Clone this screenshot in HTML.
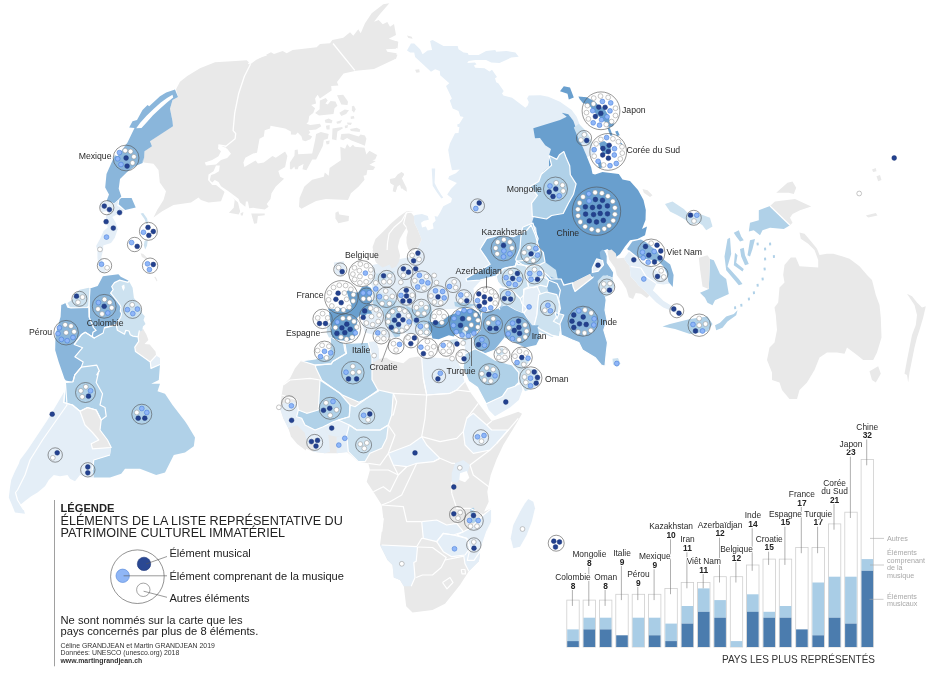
<!DOCTYPE html><html><head><meta charset="utf-8"><title>Carte</title>
<style>html,body{margin:0;padding:0;background:#fff;}svg{display:block;will-change:transform;font-family:"Liberation Sans",sans-serif;}</style></head><body>
<svg width="930" height="676" viewBox="0 0 930 676">
<rect width="930" height="676" fill="#fff"/>
<g stroke-linejoin="round">
<polygon fill="#e9e9e9"  points="176.0,89.3 180.0,81.7 187.3,76.0 200.0,68.3 215.0,62.3 231.7,61.3 246.7,60.3 250.7,64.0 256.0,60.0 271.0,52.3 274.0,54.0 282.7,51.0 286.7,53.3 292.7,50.0 316.7,47.3 320.0,44.0 330.0,43.3 332.3,40.0 343.3,37.7 350.0,32.3 353.3,35.7 358.3,29.3 360.7,33.3 365.0,23.3 371.7,13.3 383.3,4.3 389.3,3.3 380.0,14.0 374.0,21.7 378.7,20.0 382.7,24.3 387.3,22.0 390.0,26.7 394.0,24.0 396.0,35.0 388.7,38.7 397.7,41.7 396.0,48.7 386.0,49.3 387.3,51.7 396.7,53.3 394.7,59.3 374.0,69.0 356.0,70.7 343.6,73.4 337.0,82.1 338.4,85.6 331.2,86.0 331.6,90.5 319.9,98.6 317.6,94.7 315.1,98.6 316.1,103.4 311.2,105.0 315.1,108.3 313.2,113.1 309.3,116.0 308.3,121.8 306.4,123.8 310.3,125.1 319.9,123.8 321.3,126.3 316.1,129.6 308.7,130.2 310.3,132.5 308.3,134.4 312.2,136.4 310.3,139.3 305.4,141.2 302.5,140.3 301.5,136.4 297.7,132.5 295.7,134.8 290.9,134.4 290.9,131.5 285.1,128.6 270.5,125.7 270.0,128.6 264.7,130.2 263.8,136.4 259.5,138.7 257.0,152.8 253.1,153.4 245.3,157.7 243.4,162.5 244.4,167.0 252.1,162.5 255.6,160.6 257.9,163.5 263.8,162.5 272.5,156.1 275.8,157.7 285.1,151.5 287.4,155.9 285.1,167.1 278.3,171.0 280.2,176.8 284.1,178.8 275.8,186.5 271.5,193.3 270.5,199.1 266.7,203.9 268.6,206.8 264.7,209.4 253.1,207.8 249.2,208.2 247.9,201.6 245.9,201.6 245.3,206.8 239.5,202.0 240.1,211.7 238.6,214.6 228.9,212.7 233.7,207.8 234.7,200.1 231.8,196.2 225.0,190.8 221.0,201.2 208.5,202.5 201.0,200.0 198.5,197.5 191.0,202.5 173.5,205.0 162.2,211.2 153.5,217.5 157.2,210.0 163.5,200.0 166.0,191.2 159.8,182.5 158.5,170.0 153.5,163.8 143.5,162.5 144.5,151.0 152.0,146.0 150.0,141.0 173.0,126.0 172.5,121.0 170.0,109.0 172.5,100.0 178.0,97.0"/>
<polygon fill="#e9e9e9"  points="319.9,100.5 325.8,98.0 327.7,100.5 325.4,103.4 327.7,104.4 330.6,101.1 335.4,101.5 337.4,105.8 334.5,108.3 333.5,114.1 319.0,115.5 315.1,113.1 319.6,109.3"/>
<polygon fill="#e9e9e9"  points="337.0,95.3 343.2,94.7 348.0,101.5 347.5,105.0 341.3,104.4"/>
<polygon fill="#e9e9e9"  points="351.9,106.3 353.9,105.8 355.8,109.3 353.9,112.7 351.9,110.2"/>
<polygon fill="#e9e9e9"  points="339.3,112.7 344.7,109.6 349.0,110.2 346.1,114.1 341.3,116.0"/>
<polygon fill="#e9e9e9"  points="324.8,119.9 328.7,118.6 332.5,120.5 331.6,123.2 325.4,122.8"/>
<polygon fill="#e9e9e9"  points="336.4,121.8 342.2,119.9 340.3,123.2 337.0,123.8"/>
<polygon fill="#e9e9e9"  points="325.8,125.7 329.6,125.1 329.6,129.6 326.7,129.6"/>
<polygon fill="#e9e9e9"  points="332.5,128.6 342.2,127.1 342.8,128.6 337.4,131.5 336.4,140.3 332.0,139.3"/>
<polygon fill="#e9e9e9"  points="316.1,134.1 320.9,132.1 328.7,134.1 327.7,138.7 323.8,139.9 322.8,146.1 316.1,159.6 312.2,159.6 306.4,170.3 302.5,169.3 303.5,163.9 298.6,166.4 297.7,169.3 295.1,169.3 294.4,166.4 291.8,169.3 289.9,169.3 289.9,162.5 294.4,155.8 294.8,149.9 297.7,149.6 298.2,154.2 312.2,153.4 315.1,140.3"/>
<polygon fill="#e9e9e9"  points="350.0,129.0 356.8,127.7 360.2,129.6 359.7,132.1 350.9,131.0"/>
<polygon fill="#e9e9e9"  points="341.3,134.1 349.0,133.5 358.7,136.4 360.6,134.4 364.9,135.4 366.4,138.7 364.9,145.7 358.7,143.2 350.9,140.3 347.1,137.9 343.2,140.3 340.3,139.3"/>
<polygon fill="#e9e9e9"  points="347.1,122.4 351.9,122.8 350.9,125.1 347.5,124.4"/>
<polygon fill="#e9e9e9"  points="350.6,116.6 353.9,116.0 354.4,118.6 350.9,118.9"/>
<polygon fill="#e9e9e9"  points="344.7,125.7 348.0,125.1 347.5,127.7 345.1,128.2"/>
<polygon fill="#e9e9e9"  points="325.8,141.2 329.6,140.6 329.2,144.1 326.7,144.5"/>
<polygon fill="#e9e9e9"  points="340.3,146.8 345.1,148.7 347.1,143.9 350.0,147.4 352.9,144.8 354.8,146.8 364.5,147.8 366.4,154.5 369.4,150.7 377.1,155.1 375.2,159.4 372.3,160.3 375.7,161.3 369.4,164.8 375.2,167.1 373.2,170.0 367.4,170.0 366.4,174.9 363.5,175.8 364.5,179.7 358.7,186.5 350.9,193.3 348.0,200.1 325.8,199.1 316.1,201.0 308.3,204.9 301.5,208.8 299.0,206.8 299.6,198.1 304.4,186.5 312.2,179.7 323.8,176.8 324.8,172.6 328.7,175.8 329.6,168.1 340.9,160.3"/>
<polygon fill="#e9e9e9"  points="335.4,212.7 338.4,211.3 339.3,214.6 349.0,216.0 348.6,221.0 338.4,223.3 335.4,218.5"/>
<polygon fill="#e9e9e9"  points="389.7,179.7 395.5,178.8 398.4,183.6 395.5,192.3 392.6,191.3 394.5,185.5 390.7,183.6"/>
<polygon fill="#e9e9e9"  points="398.4,174.9 401.3,172.0 404.2,173.9 402.3,177.8"/>
<polygon fill="#e9e9e9"  points="400.4,186.5 402.9,185.0 403.6,188.1 401.3,188.8"/>
<polygon fill="#e9e9e9"  points="251.2,213.6 264.7,213.6 264.7,215.2 257.9,216.0 257.0,223.3 254.1,223.7"/>
<polygon fill="#e9e9e9"  points="240.5,213.2 243.4,212.1 242.8,215.6 240.9,215.6"/>
<polygon fill="#fff"  points="218.5,144.5 227.2,148.8 231.0,153.8 227.2,158.0 221.0,160.0 216.0,164.5 206.0,165.5 204.8,162.5 212.2,160.0 218.5,156.2 221.0,151.2 218.0,148.8"/>
<polygon fill="#fff"  points="216.0,165.5 219.8,165.5 219.0,171.2 214.8,173.8 211.0,175.0 209.8,180.0 212.2,182.5 214.8,180.0 218.5,182.0 221.0,186.2 228.5,191.2 233.5,195.0 238.5,198.8 241.0,205.0 241.0,210.0 239.8,210.0 238.0,202.5 232.2,197.5 226.0,193.0 219.8,188.0 216.0,185.0 212.2,185.0 208.0,180.0 208.5,174.5 213.5,171.2"/>
<polyline fill="none" stroke="#fff" stroke-width="1.3" points="249.2,58.9 250.2,64.7 244.4,76.3 238.6,93.8 234.7,113.1 233.1,130.6 235.7,133.5 235.1,138.7 225.0,147.0 226.0,146.2 218.5,145.0"/>
<polyline fill="none" stroke="#fff" stroke-width="1.3" points="248.3,63.7 254.1,58.9 266.7,55.0"/>
<polyline fill="none" stroke="#fff" stroke-width="1.3" points="333.0,43.5 354.8,70.3"/>
<polygon fill="#8ab6db"  points="175.0,89.5 178.0,97.0 172.5,100.0 170.0,108.8 172.5,121.2 173.0,126.2 150.0,141.2 152.0,146.2 144.5,151.2 143.8,162.5 143.2,157.7 142.6,162.9 135.5,166.1 127.1,171.9 120.0,179.0 118.7,188.7 121.3,196.5 118.7,199.3 114.2,203.2 106.5,201.0 109.0,194.5 105.2,187.4 106.5,173.9 114.8,155.2 117.5,156.2 127.5,142.5 134.5,128.0 129.2,127.5 132.5,121.2 137.0,120.0 142.5,110.0 147.5,105.0 149.2,106.2 160.0,96.2 166.2,92.5"/>
<polygon fill="#fff"  points="173.2,97.5 167.0,102.5 160.5,108.2 153.0,115.2 147.0,122.0 141.5,128.0 136.2,128.2 140.2,122.8 146.8,115.5 153.8,108.8 160.8,102.5 167.0,98.0 172.5,94.8"/>
<polygon fill="#8ab6db"  points="121.3,198.0 131.6,198.0 135.7,207.4 125.2,210.0 118.7,204.2 119.4,199.7"/>
<polygon fill="#e4eef7"  points="100.6,201.6 106.5,201.0 114.2,203.2 118.5,199.7 117.2,205.5 124.5,210.4 116.8,214.5 112.3,217.1 115.5,222.3 118.1,230.0 117.4,230.0 114.8,237.7 111.0,242.9 103.2,245.5 103.2,249.4 101.3,257.1 105.8,272.6 99.4,272.6 97.4,257.7 97.4,249.4 96.1,246.1 100.0,239.0 103.9,230.6 101.9,232.6 107.7,227.4 105.8,217.1 109.7,210.6 101.9,211.9 99.4,206.8"/>
<polygon fill="#cde2f0"  points="140.6,213.5 143.2,213.0 147.1,218.4 148.1,223.5 146.5,224.2 144.5,219.0"/>
<polygon fill="#cde2f0"  points="144.5,241.0 147.7,240.3 147.1,245.5 145.2,249.4 143.9,245.5"/>
<polygon fill="#e9e9e9"  points="140.6,253.2 143.2,253.9 147.1,257.7 146.5,259.4 141.9,257.1"/>
<polygon fill="#e9e9e9"  points="154.2,277.1 155.5,276.7 157.4,280.3 156.8,281.6"/>
<polygon fill="#b0d1e8"  points="74.2,344.5 81.3,334.8 85.2,332.3 94.2,338.1 103.2,332.9 104.5,327.7 116.1,324.5 117.4,330.3 124.5,334.2 125.8,330.3 129.0,331.0 130.3,334.8 132.9,336.1 138.1,336.8 138.7,341.3 134.8,347.1 135.5,351.6 141.9,356.1 150.3,361.9 151.0,368.4 160.0,364.5 158.8,380.0 151.2,383.8 160.0,383.8 157.5,391.2 165.0,393.8 172.5,405.0 185.0,421.2 187.5,425.0 195.0,437.5 193.8,446.2 185.0,452.5 173.8,455.0 165.0,472.5 156.2,475.0 140.0,468.8 125.0,468.8 121.2,473.8 110.0,477.5 93.8,477.5 92.5,470.0 93.8,460.0 110.0,455.0 111.2,447.5 107.5,440.0 100.0,430.0 101.2,420.0 106.2,416.2 105.0,407.5 100.0,405.0 102.5,393.8 96.2,382.5 98.8,371.2 95.0,366.2 96.8,374.8 99.4,371.0 96.8,365.2 81.3,367.1 83.2,361.9 74.8,356.8 82.6,347.7"/>
<polygon fill="#e9e9e9"  points="139.4,330.3 143.2,329.0 146.5,334.8 148.4,340.0 144.5,343.9 149.7,344.5 155.5,351.6 156.1,355.5 150.3,361.9 141.9,356.1 135.5,351.6 134.8,347.1 138.7,341.3 138.1,336.8"/>
<polygon fill="#e4eef7"  points="150.3,361.9 156.1,355.5 160.0,358.1 160.0,364.5 151.0,368.4"/>
<polygon fill="#8ab6db"  points="61.3,304.5 65.8,302.3 67.7,307.1 71.0,308.0 87.1,307.5 88.8,306.2 89.0,316.8 93.5,327.7 96.1,330.3 92.9,332.3 92.3,336.8 94.2,338.1 85.2,332.3 81.3,334.8 74.2,344.5 82.6,347.7 74.8,356.8 83.2,361.9 81.3,367.1 74.8,374.8 72.9,381.9 65.8,380.6 64.5,378.7 58.7,361.9 55.2,350.3 55.5,334.8 60.6,316.8"/>
<polygon fill="#cde2f0"  points="67.4,303.0 72.6,299.4 73.9,294.3 79.7,289.7 88.7,287.8 89.7,288.5 89.7,307.2 87.4,308.2 70.0,307.2"/>
<polygon fill="#8ab6db"  points="90.0,288.5 97.7,285.9 102.9,276.2 118.4,274.3 120.7,276.8 128.7,280.7 128.1,282.4 119.7,280.1 114.5,282.6 111.7,286.5 113.2,289.7 110.6,293.0 115.8,299.4 119.7,304.6 121.0,307.2 120.3,311.0 121.6,313.6 120.7,317.2 117.1,322.6 116.1,325.0 104.8,327.8 104.2,332.3 94.5,337.9 92.6,336.8 93.2,332.3 96.5,330.4 93.9,327.5 90.0,318.8"/>
<polygon fill="#cde2f0"  points="111.7,286.5 114.5,282.6 119.7,280.1 128.1,282.4 128.7,280.7 132.6,287.8 133.9,298.1 140.3,305.9 142.3,313.6 144.8,316.2 143.5,320.1 145.5,323.9 142.9,326.5 142.3,330.4 139.0,331.7 138.1,336.8 132.8,336.1 130.3,334.8 129.0,331.0 125.7,330.3 124.5,334.1 117.4,330.3 116.1,325.0 117.1,322.6 120.7,317.2 121.6,313.6 120.3,311.0 121.0,307.2 119.7,304.6 115.8,299.4 110.6,293.0 113.2,289.7"/>
<polygon fill="#fff"  points="121.6,285.9 124.2,284.6 124.8,287.8 123.5,291.0 122.3,288.5"/>
<polygon fill="#b0d1e8"  points="81.3,367.1 96.8,365.2 99.4,371.0 96.8,374.8 98.8,371.2 96.2,382.5 102.5,393.8 100.0,405.0 105.0,407.5 106.2,416.2 101.2,420.0 96.2,410.0 87.5,407.5 80.0,411.2 72.5,405.0 63.8,402.5 65.5,382.5 72.9,381.9 74.8,374.8"/>
<polygon fill="#e9e9e9"  points="80.0,411.2 87.5,407.5 96.2,410.0 101.2,420.0 100.0,430.0 107.5,440.0 111.2,447.5 92.5,448.8 91.2,443.8 98.8,440.0 92.5,432.5 85.0,425.0"/>
<polygon fill="#e4eef7"  points="65.5,382.5 63.8,402.5 72.5,405.0 80.0,411.2 85.0,425.0 92.5,432.5 98.8,440.0 91.2,443.8 92.5,448.8 111.2,447.5 110.0,455.0 93.8,460.0 92.5,470.0 93.8,477.5 87.5,477.5 80.0,475.0 75.0,481.2 70.0,478.8 67.5,475.0 60.0,476.2 53.8,475.0 48.8,480.0 45.0,486.2 37.5,492.5 31.2,496.2 26.2,500.0 20.0,505.0 23.8,510.0 25.0,513.8 15.0,512.5 12.5,506.2 8.8,497.5 10.0,487.5 11.2,480.0 15.0,471.2 18.8,463.8 20.0,460.0 27.5,450.0 37.5,435.0 47.5,420.0 51.2,413.8 63.8,392.5"/>
<polyline fill="none" stroke="#fff" stroke-width="1.2" points="65.5,383.8 67.0,405.0 60.0,415.0 42.5,440.0 30.0,460.0 25.0,475.0 17.5,490.0 15.5,492.5 17.5,500.0 23.8,510.0"/>
<polyline fill="none" stroke="#fff" stroke-width="1.2" points="65.5,382.5 63.8,402.5 72.5,405.0 80.0,411.2"/>
<polyline fill="none" stroke="#fff" stroke-width="1.2" points="81.3,367.1 96.8,365.2 99.4,371.0 96.8,374.8 98.8,371.2 96.2,382.5 102.5,393.8 100.0,405.0 105.0,407.5 106.2,416.2 101.2,420.0 96.2,410.0 87.5,407.5 80.0,411.2 72.5,405.0 63.8,402.5 65.5,382.5 72.9,381.9 74.8,374.8 81.3,367.1"/>
<polyline fill="none" stroke="#fff" stroke-width="1.2" points="80.0,411.2 87.5,407.5 96.2,410.0 101.2,420.0 100.0,430.0 107.5,440.0 111.2,447.5 92.5,448.8 91.2,443.8 98.8,440.0 92.5,432.5 85.0,425.0 80.0,411.2"/>
<polyline fill="none" stroke="#fff" stroke-width="1.2" points="110.0,455.0 93.8,460.0 92.5,470.0"/>
<polyline fill="none" stroke="#fff" stroke-width="1.2" points="88.8,306.2 89.0,316.8 93.5,327.7 96.1,330.3 92.9,332.3 92.3,336.8 94.2,338.1 85.2,332.3 81.3,334.8 74.2,344.5 82.6,347.7 74.8,356.8 83.2,361.9 81.3,367.1 74.8,374.8 72.9,381.9"/>
<polyline fill="none" stroke="#fff" stroke-width="1.2" points="74.2,344.5 81.3,334.8 85.2,332.3 94.2,338.1 103.2,332.9 104.5,327.7 116.1,324.5 117.4,330.3 124.5,334.2 125.8,330.3 129.0,331.0 130.3,334.8 132.9,336.1 138.1,336.8 138.7,341.3 134.8,347.1 135.5,351.6 141.9,356.1 150.3,361.9 151.0,368.4 160.0,364.5"/>
<polyline fill="none" stroke="#fff" stroke-width="1.2" points="61.3,304.5 65.8,302.3 67.7,307.1 71.0,308.0 87.1,307.5 88.8,306.2 90.0,288.5"/>
<polyline fill="none" stroke="#fff" stroke-width="1.2" points="128.7,280.7 128.1,282.4 119.7,280.1 114.5,282.6 111.7,286.5 113.2,289.7 110.6,293.0 115.8,299.4 119.7,304.6 121.0,307.2 120.3,311.0 121.6,313.6 120.7,317.2 117.1,322.6 116.1,325.0 104.8,327.8"/>
<polyline fill="none" stroke="#fff" stroke-width="1.2" points="150.3,361.9 156.1,355.5"/>
<polyline fill="none" stroke="#fff" stroke-width="1.2" points="138.1,336.8 139.4,330.3"/>
<polygon fill="#e9e9e9"  points="301.1,360.8 315.3,358.9 328.2,355.0 330.7,346.0 330.1,336.3 334.6,338.9 343.6,342.7 360.4,342.7 368.2,342.1 375.9,341.5 378.5,348.5 379.1,358.9 386.2,357.6 390.1,360.2 403.3,363.3 409.5,358.0 418.2,356.6 423.0,359.0 433.7,357.5 449.2,358.5 456.7,359.5 461.7,368.3 465.0,381.7 470.0,391.7 478.3,403.3 486.7,414.3 491.7,421.0 500.0,418.3 518.3,411.7 522.0,413.7 515.0,425.7 503.3,445.0 496.7,459.0 490.7,475.0 487.3,491.7 488.7,501.7 484.0,511.7 491.7,508.3 491.7,521.7 486.7,531.7 483.3,541.7 480.0,551.7 480.0,540.0 480.0,555.0 478.8,561.2 468.8,571.2 460.0,585.0 445.0,603.8 432.5,610.0 412.5,612.5 406.2,606.2 403.8,586.2 400.0,580.0 393.8,577.5 392.5,565.0 387.5,560.0 380.0,545.0 381.7,531.7 383.3,518.3 381.7,505.0 373.3,491.7 366.7,481.7 370.0,470.0 368.3,463.3 358.3,461.7 346.7,451.7 336.7,453.3 325.0,453.3 313.3,451.7 305.0,448.3 296.7,438.3 290.0,431.7 283.3,418.3 280.0,408.3 281.7,395.0 283.3,385.0 290.0,378.3 295.0,368.3"/>
<polygon fill="#b0d1e8"  points="301.1,360.8 315.3,358.9 328.2,355.0 330.7,346.0 330.1,336.3 334.6,338.9 343.6,342.7 344.9,351.1 346.5,353.3 332.7,361.5 331.4,363.8 315.3,365.1"/>
<polygon fill="#b0d1e8"  points="332.7,361.5 346.5,353.3 344.9,343.4 360.4,342.7 368.2,342.1 370.7,352.4 372.0,357.6 372.0,379.5 378.5,391.1 363.0,400.2 359.1,402.2 342.4,395.0 321.7,380.2 315.9,367.9 315.3,365.1 331.4,363.8"/>
<polygon fill="#e4eef7"  points="368.2,342.1 375.9,341.5 378.5,348.5 379.1,358.9 373.3,362.7 372.0,357.6 370.7,352.4"/>
<polygon fill="#b0d1e8"  points="320.0,380.0 340.0,393.3 350.0,405.0 349.3,416.7 338.3,420.0 333.3,421.7 323.3,426.7 315.0,430.0 305.0,425.0 301.7,418.3 296.7,416.7 298.3,410.0 306.7,413.3 318.3,410.0"/>
<polygon fill="#cde2f0"  points="350.0,405.0 355.0,406.7 378.3,390.0 393.3,393.3 391.7,415.0 388.3,425.0 380.0,430.0 356.7,430.0 349.3,425.0 338.3,420.0 349.3,416.7"/>
<polygon fill="#e4eef7"  points="323.3,426.7 333.3,421.7 338.3,420.0 349.3,425.0 346.7,435.0 336.7,436.7 328.3,435.0"/>
<polygon fill="#cde2f0"  points="349.3,425.0 356.7,430.0 380.0,430.0 388.3,425.0 386.7,438.3 381.7,448.3 370.0,453.3 365.0,461.7 358.3,461.7 348.3,451.7 346.7,435.0"/>
<polygon fill="#e4eef7"  points="280.0,408.3 283.3,403.3 295.0,401.7 298.3,410.0 296.7,416.7 301.7,418.3 305.0,425.0 315.0,430.0 313.3,441.7 305.0,448.3 296.7,438.3 290.0,431.7 283.3,418.3"/>
<polygon fill="#e4eef7"  points="313.3,441.7 315.0,430.0 323.3,426.7 328.3,435.0 330.0,451.7 325.0,453.3 313.3,451.7"/>
<polygon fill="#e4eef7"  points="336.7,436.7 346.7,435.0 348.3,451.7 346.7,452.3 336.7,453.3"/>
<polygon fill="#e4eef7"  points="421.7,358.3 430.0,356.7 443.3,357.7 456.7,359.0 461.7,368.3 465.0,381.7 456.7,390.0 450.0,393.3 426.7,395.0 423.3,378.3"/>
<polygon fill="#e4eef7"  points="466.7,418.3 473.3,413.3 486.7,425.0 491.7,430.0 508.3,430.0 496.7,443.3 490.0,450.0 473.3,453.3 465.0,445.0 463.3,431.7"/>
<polygon fill="#e4eef7"  points="388.3,453.3 410.0,445.0 421.7,436.7 426.7,445.0 440.0,458.3 433.3,461.7 416.7,463.3 406.7,466.7 393.3,465.0"/>
<polygon fill="#e4eef7"  points="451.7,473.3 455.0,463.3 463.3,460.0 470.0,465.0 466.7,475.0 460.0,478.3 456.7,483.3 451.7,481.7"/>
<polygon fill="#fff"  points="460.0,473.3 466.7,471.0 469.3,477.7 465.0,482.3 459.3,480.0"/>
<polygon fill="#b0d1e8"  points="470.0,508.3 474.0,507.7 476.7,521.7 471.7,523.3"/>
<polygon fill="#e4eef7"  points="421.7,521.7 436.7,520.0 446.7,525.0 456.7,523.3 463.3,531.7 453.3,535.0 443.3,533.3 436.7,541.7 423.3,538.3"/>
<polygon fill="#e4eef7"  points="470.0,528.3 483.3,515.0 491.7,508.3 491.7,521.7 486.7,531.7 483.3,541.7 480.0,551.7 474.0,560.3 467.3,560.3 470.0,548.3 466.7,538.3 456.7,535.0 463.3,531.7"/>
<polygon fill="#e4eef7"  points="436.7,541.7 443.3,533.3 453.3,535.0 466.7,538.3 470.0,548.3 465.0,555.0 451.7,556.7 443.3,551.7"/>
<polygon fill="#e4eef7"  points="380.0,545.0 417.5,547.0 416.2,561.2 413.8,562.5 415.0,577.5 411.2,586.2 403.8,586.2 400.0,580.0 393.8,577.5 392.5,565.0 387.5,560.0"/>
<polygon fill="#e4eef7"  points="465.0,550.0 480.0,545.0 480.0,555.0 478.8,561.2 468.8,571.2 465.0,563.8 463.8,556.2"/>
<polygon fill="#e4eef7"  points="528.3,499.0 533.3,501.7 535.0,508.3 531.7,521.7 526.7,535.0 520.0,546.7 513.3,548.3 510.7,538.3 513.3,525.0 520.0,511.7 525.0,503.3"/>
<polyline fill="none" stroke="#fff" stroke-width="1.2" points="301.1,360.8 315.3,358.9 328.2,355.0 330.7,346.0 330.1,336.3 334.6,338.9 343.6,342.7 344.9,351.1 346.5,353.3 332.7,361.5 331.4,363.8 315.3,365.1 301.1,360.8"/>
<polyline fill="none" stroke="#fff" stroke-width="1.2" points="332.7,361.5 346.5,353.3 344.9,343.4 360.4,342.7 368.2,342.1 370.7,352.4 372.0,357.6 372.0,379.5 378.5,391.1 363.0,400.2 359.1,402.2 342.4,395.0 321.7,380.2 315.9,367.9 315.3,365.1 331.4,363.8 332.7,361.5"/>
<polyline fill="none" stroke="#fff" stroke-width="1.2" points="320.0,380.0 340.0,393.3 350.0,405.0 349.3,416.7 338.3,420.0 333.3,421.7 323.3,426.7 315.0,430.0 305.0,425.0 301.7,418.3 296.7,416.7 298.3,410.0 306.7,413.3 318.3,410.0 320.0,380.0"/>
<polyline fill="none" stroke="#fff" stroke-width="1.2" points="350.0,405.0 355.0,406.7 378.3,390.0 393.3,393.3 391.7,415.0 388.3,425.0 380.0,430.0 356.7,430.0 349.3,425.0 338.3,420.0 349.3,416.7 350.0,405.0"/>
<polyline fill="none" stroke="#fff" stroke-width="1.2" points="349.3,425.0 356.7,430.0 380.0,430.0 388.3,425.0 386.7,438.3 381.7,448.3 370.0,453.3 365.0,461.7 358.3,461.7 348.3,451.7 346.7,435.0 349.3,425.0"/>
<polyline fill="none" stroke="#fff" stroke-width="1.2" points="421.7,358.3 430.0,356.7 443.3,357.7 456.7,359.0 461.7,368.3 465.0,381.7 456.7,390.0 450.0,393.3 426.7,395.0 423.3,378.3 421.7,358.3"/>
<polyline fill="none" stroke="#fff" stroke-width="1.2" points="466.7,418.3 473.3,413.3 486.7,425.0 491.7,430.0 508.3,430.0 496.7,443.3 490.0,450.0 473.3,453.3 465.0,445.0 463.3,431.7 466.7,418.3"/>
<polyline fill="none" stroke="#fff" stroke-width="1.2" points="388.3,453.3 410.0,445.0 421.7,436.7 426.7,445.0 440.0,458.3 433.3,461.7 416.7,463.3 406.7,466.7 393.3,465.0 388.3,453.3"/>
<polyline fill="none" stroke="#fff" stroke-width="1.2" points="421.7,521.7 436.7,520.0 446.7,525.0 456.7,523.3 463.3,531.7 453.3,535.0 443.3,533.3 436.7,541.7 423.3,538.3 421.7,521.7"/>
<polyline fill="none" stroke="#fff" stroke-width="1.2" points="470.0,528.3 483.3,515.0 491.7,508.3 491.7,521.7 486.7,531.7 483.3,541.7 480.0,551.7 474.0,560.3 467.3,560.3 470.0,548.3 466.7,538.3 456.7,535.0 463.3,531.7 470.0,528.3"/>
<polyline fill="none" stroke="#fff" stroke-width="1.2" points="436.7,541.7 443.3,533.3 453.3,535.0 466.7,538.3 470.0,548.3 465.0,555.0 451.7,556.7 443.3,551.7 436.7,541.7"/>
<polyline fill="none" stroke="#fff" stroke-width="1.2" points="283.3,385.0 290.0,380.0 310.0,378.3 320.0,380.0"/>
<polyline fill="none" stroke="#fff" stroke-width="1.2" points="281.7,395.0 296.7,400.0 298.3,410.0"/>
<polyline fill="none" stroke="#fff" stroke-width="1.2" points="393.3,393.3 426.7,395.0"/>
<polyline fill="none" stroke="#fff" stroke-width="1.2" points="393.3,393.3 396.7,401.7 393.3,415.0 391.7,415.0"/>
<polyline fill="none" stroke="#fff" stroke-width="1.2" points="423.3,378.3 426.7,395.0 425.0,418.3 421.7,436.7"/>
<polyline fill="none" stroke="#fff" stroke-width="1.2" points="388.3,425.0 395.0,435.0 388.3,453.3"/>
<polyline fill="none" stroke="#fff" stroke-width="1.2" points="450.0,393.3 456.7,390.0 470.0,391.7"/>
<polyline fill="none" stroke="#fff" stroke-width="1.2" points="426.7,395.0 450.0,393.3"/>
<polyline fill="none" stroke="#fff" stroke-width="1.2" points="421.7,436.7 440.0,441.7 456.7,438.3 463.3,431.7"/>
<polyline fill="none" stroke="#fff" stroke-width="1.2" points="478.3,403.3 466.7,418.3"/>
<polyline fill="none" stroke="#fff" stroke-width="1.2" points="491.7,421.0 486.7,425.0"/>
<polyline fill="none" stroke="#fff" stroke-width="1.2" points="496.7,443.3 508.3,430.0 518.3,418.3"/>
<polyline fill="none" stroke="#fff" stroke-width="1.2" points="440.0,458.3 451.7,463.3 455.0,463.3"/>
<polyline fill="none" stroke="#fff" stroke-width="1.2" points="470.0,465.0 490.0,450.0"/>
<polyline fill="none" stroke="#fff" stroke-width="1.2" points="470.0,465.0 473.3,475.0 490.7,488.3"/>
<polyline fill="none" stroke="#fff" stroke-width="1.2" points="451.7,493.3 456.7,508.3 470.0,508.3 483.3,515.0"/>
<polyline fill="none" stroke="#fff" stroke-width="1.2" points="451.7,481.7 451.7,493.3"/>
<polyline fill="none" stroke="#fff" stroke-width="1.2" points="393.3,465.0 398.3,475.0 406.7,466.7"/>
<polyline fill="none" stroke="#fff" stroke-width="1.2" points="368.3,463.3 380.0,465.0 388.3,453.3"/>
<polyline fill="none" stroke="#fff" stroke-width="1.2" points="370.0,470.0 388.3,470.0 398.3,475.0"/>
<polyline fill="none" stroke="#fff" stroke-width="1.2" points="373.3,491.7 383.3,486.7 390.0,491.7 398.3,475.0"/>
<polyline fill="none" stroke="#fff" stroke-width="1.2" points="381.7,505.0 390.0,501.7 401.7,495.0 416.7,463.3"/>
<polyline fill="none" stroke="#fff" stroke-width="1.2" points="381.7,505.0 403.3,506.7 406.7,521.7 421.7,521.7"/>
<polyline fill="none" stroke="#fff" stroke-width="1.2" points="383.3,518.3 381.7,531.7"/>
<polyline fill="none" stroke="#fff" stroke-width="1.2" points="381.7,545.0 416.7,546.7 421.7,538.3 423.3,538.3"/>
<polyline fill="none" stroke="#fff" stroke-width="1.2" points="433.3,461.7 440.0,458.3"/>
<polyline fill="none" stroke="#fff" stroke-width="1.2" points="417.5,547.0 416.2,561.2 413.8,562.5 415.0,577.5 411.2,586.2"/>
<polyline fill="none" stroke="#fff" stroke-width="1.2" points="416.2,577.5 422.5,575.0 432.5,575.0 441.2,567.5 445.0,560.0 463.8,556.2 465.0,563.8 468.8,571.2"/>
<polyline fill="none" stroke="#fff" stroke-width="1.2" points="417.5,547.0 432.5,547.5 446.2,557.5 445.0,560.0"/>
<polyline fill="none" stroke="#fff" stroke-width="1.2" points="442.5,582.5 450.0,577.5 453.0,582.5 447.0,588.8 442.5,582.5"/>
<polyline fill="none" stroke="#fff" stroke-width="1.2" points="461.2,569.5 465.0,569.5 465.5,573.8 462.0,573.8 461.2,569.5"/>
<polygon fill="#e9e9e9"  points="288.4,427.8 297.2,425.3 304.7,432.8 307.2,442.9 305.9,450.4 297.2,444.1 290.9,436.6"/>
<polygon fill="#e4eef7"  points="372.5,265.0 395.0,260.0 407.5,257.5 430.0,265.0 480.0,275.0 482.5,307.5 431.2,310.0 430.0,325.0 420.0,335.0 400.0,332.5 395.0,337.5 385.0,337.5 365.0,332.5 362.5,325.0 365.0,312.5 372.5,300.0 372.5,280.0"/>
<polygon fill="#e4eef7"  points="333.8,262.5 343.8,261.2 346.2,270.0 341.2,276.2 335.0,273.8"/>
<polygon fill="#cde2f0"  points="376.2,273.8 395.0,271.2 407.5,275.0 425.0,273.8 430.0,287.5 428.8,300.0 420.0,310.0 407.5,308.8 395.0,310.0 385.0,307.5 375.0,300.0 372.5,287.5"/>
<polygon fill="#b0d1e8"  points="407.5,300.0 420.0,297.5 430.0,301.2 432.5,312.5 430.0,325.0 422.5,332.5 415.0,325.0 410.0,315.0 406.2,307.5"/>
<polygon fill="#cde2f0"  points="418.8,322.5 430.0,325.0 433.8,335.0 428.8,336.2 421.2,333.8"/>
<polygon fill="#699fce"  points="346.5,291.1 351.0,289.8 353.5,292.4 358.1,292.4 361.9,287.3 367.1,286.0 371.0,287.9 372.3,293.7 370.3,297.6 372.3,300.8 369.7,304.0 372.3,306.0 370.3,309.2 372.3,313.7 367.1,313.7 364.5,316.3 360.6,314.4 356.8,318.2 349.7,313.7 342.6,311.8 336.1,311.8 329.7,311.8 327.7,308.5 333.5,309.2 338.7,307.9 347.7,309.2 351.6,305.3 349.0,298.9"/>
<polygon fill="#699fce"  points="329.0,311.8 342.6,311.8 349.7,313.7 356.8,318.2 357.4,322.1 355.5,327.3 356.8,332.4 354.2,337.6 349.0,340.8 338.7,340.2 332.3,337.6 330.3,332.4 331.6,327.3 330.3,322.1"/>
<polygon fill="#cde2f0"  points="327.7,324.7 330.3,322.1 331.6,327.3 330.3,332.4 332.3,337.6 329.0,337.6 326.5,332.4"/>
<polygon fill="#b0d1e8"  points="382.5,308.8 395.0,306.2 400.0,312.5 397.5,320.0 401.2,327.5 400.0,336.2 395.0,337.5 390.0,330.0 386.2,322.5 383.8,315.0"/>
<polygon fill="#b0d1e8"  points="372.5,300.0 385.0,298.8 395.0,301.2 395.0,306.2 382.5,308.8 373.8,306.2"/>
<polygon fill="#699fce"  points="428.1,320.5 430.5,321.9 435.3,322.4 443.1,320.2 448.4,315.9 452.8,314.2 458.6,312.1 465.3,309.4 472.0,308.7 478.7,312.6 481.6,317.4 480.6,329.0 478.7,332.9 472.1,335.5 468.3,336.5 462.4,335.5 456.6,332.6 453.7,336.5 448.9,335.3 443.1,337.4 438.7,339.2 432.4,338.4 431.3,332.6 428.6,328.7"/>
<polygon fill="#b0d1e8"  points="452.5,292.5 473.8,290.0 475.0,305.0 465.0,308.8 455.0,306.2"/>
<polygon fill="#8ab6db"  points="473.8,290.0 485.0,285.0 497.5,287.5 500.0,300.0 495.0,310.0 482.5,312.5 475.0,305.0"/>
<polygon fill="#cde2f0"  points="450.0,340.0 457.5,338.8 458.0,343.0 451.2,344.5"/>
<polygon fill="#cde2f0"  points="462.5,336.2 480.0,330.0 487.5,332.5 482.5,342.5 472.5,347.5 465.0,347.5"/>
<polygon fill="#8ab6db"  points="476.0,303.0 500.0,302.0 504.0,316.0 481.0,316.0"/>
<polygon fill="#8ab6db"  points="481.6,312.6 499.0,307.7 502.0,312.6 507.8,316.5 505.0,337.5 495.0,350.0 485.0,353.8 475.0,348.8 472.5,337.5 480.0,330.0"/>
<polyline fill="none" stroke="#fff" stroke-width="1.2" points="481.6,312.6 499.0,307.7 502.0,312.6 507.8,316.5 505.0,337.5 495.0,350.0 485.0,353.8 475.0,348.8 472.5,337.5 480.0,330.0 481.6,312.6"/>
<polygon fill="#e4eef7"  points="465.0,340.0 472.5,337.5 475.0,348.8 465.0,353.8"/>
<polygon fill="#cde2f0"  points="462.5,330.0 465.0,328.8 467.5,337.5 465.0,343.8 462.5,342.5"/>
<polygon fill="#b0d1e8"  points="465.0,353.8 475.0,348.8 485.0,353.8 495.0,360.0 512.5,365.0 518.8,372.5 518.8,382.5 515.0,386.2 507.5,388.8 502.5,396.2 486.2,403.8 477.5,387.5 468.5,381.2 463.0,367.5"/>
<polygon fill="#e4eef7"  points="486.2,403.8 502.5,396.2 507.5,388.8 515.0,386.2 521.2,383.8 522.5,390.0 518.8,400.0 510.0,407.5 495.0,416.2 488.8,410.0"/>
<polygon fill="#cde2f0"  points="518.8,372.5 525.0,367.5 537.5,370.0 540.0,380.0 535.0,387.5 525.0,391.2 521.2,383.8 518.8,382.5"/>
<polygon fill="#cde2f0"  points="512.5,365.0 522.5,358.8 530.0,360.0 525.0,367.5 518.8,372.5"/>
<polygon fill="#cde2f0"  points="495.0,350.0 502.5,347.5 505.0,353.8 497.5,356.2"/>
<polyline fill="none" stroke="#fff" stroke-width="1.2" points="465.0,353.8 475.0,348.8 485.0,353.8 495.0,360.0 512.5,365.0 518.8,372.5 518.8,382.5 515.0,386.2 507.5,388.8 502.5,396.2 486.2,403.8 477.5,387.5 468.5,381.2 463.0,367.5 465.0,353.8"/>
<polygon fill="#e4eef7"  points="407.0,50.4 410.9,43.4 414.2,43.4 420.1,49.3 422.6,54.3 427.6,50.4 432.1,50.1 430.1,40.9 432.6,40.1 443.5,45.9 457.7,45.9 458.5,49.3 463.6,52.6 467.7,53.1 468.6,55.1 478.6,55.1 486.1,50.9 495.3,50.1 496.2,51.8 506.2,50.9 515.4,52.6 518.7,56.8 511.2,57.6 499.5,63.1 491.2,62.6 486.1,60.1 475.3,60.1 468.6,61.0 467.2,63.1 474.9,62.6 476.6,64.3 473.9,65.5 475.3,67.7 484.5,68.2 489.5,71.5 492.0,69.8 497.0,76.9 495.0,78.2 496.2,82.2 498.3,83.2 503.7,91.1 502.0,93.6 503.4,95.6 512.1,97.8 525.4,107.8 527.9,105.3 528.8,101.9 527.1,98.6 528.8,95.6 540.5,95.3 548.3,96.7 560.0,101.7 571.7,110.0 576.7,116.7 581.7,130.0 588.3,136.7 595.0,153.3 581.7,160.0 568.3,163.3 560.0,215.0 540.0,225.0 535.0,300.0 480.0,305.0 440.0,300.0 415.0,310.0 395.0,300.0 375.0,290.0 368.0,280.0 383.3,281.0 392.9,274.0 398.8,266.3 406.5,258.5 416.2,254.6 418.1,246.9 421.6,239.5 417.2,228.5 414.3,222.7 413.9,215.9 415.2,214.9 422.0,213.9 427.8,215.9 428.8,219.8 423.9,220.7 421.0,222.7 422.0,227.5 425.9,226.5 427.8,230.4 433.6,228.5 432.7,223.6 435.6,220.7 434.6,215.9 437.5,216.8 440.4,212.0 443.3,206.2 451.1,202.3 452.0,198.4 447.2,194.6 451.1,188.8 456.9,182.9 448.2,179.1 449.1,176.2 455.9,173.3 459.8,169.4 452.0,170.3 450.1,161.6 448.2,150.0 450.0,143.3 455.0,133.3 458.5,133.0 459.4,127.0 457.7,127.0 457.2,124.5 459.4,123.7 463.6,117.0 460.2,116.2 458.5,111.1 452.7,108.6 449.8,100.6 451.9,98.6 446.0,86.1 449.3,83.2 440.2,75.2 439.8,71.0 435.1,69.3 431.0,71.8 415.1,57.1 414.2,52.6 410.1,52.6"/>
<polygon fill="#e9e9e9"  points="395.0,40.9 398.3,41.7 397.5,48.4 395.0,47.6"/>
<polygon fill="#e9e9e9"  points="407.0,35.4 411.7,36.7 412.6,38.7 408.4,38.1"/>
<polygon fill="#e9e9e9"  points="415.1,69.8 419.2,69.3 419.7,72.2 416.4,72.7"/>
<polygon fill="#e9e9e9"  points="395.0,54.3 397.5,54.8 395.8,59.3 395.0,58.8"/>
<polygon fill="#e4eef7"  points="431.7,168.4 435.2,168.4 434.6,182.9 437.5,188.8 441.0,194.6 443.3,197.5 441.4,198.4 436.5,191.7 432.7,185.8"/>
<polygon fill="#e9e9e9"  points="413.9,211.0 406.1,211.6 398.8,216.8 391.0,223.6 383.3,231.4 375.5,239.1 372.6,246.9 373.6,254.6 375.5,261.4 379.4,265.3 383.3,262.4 386.2,257.5 389.1,264.3 392.0,268.6 396.4,266.3 399.1,261.4 400.1,255.6 397.8,246.9 399.7,239.1 403.0,233.3 406.5,227.5 403.6,223.6 405.0,217.8 406.5,212.4"/>
<polygon fill="#e9e9e9"  points="406.5,212.4 411.3,213.0 413.9,215.9 414.3,222.7 417.2,228.5 421.6,239.5 418.1,246.9 413.3,250.8 410.8,252.3 408.1,248.8 406.5,243.0 406.5,237.2 407.9,231.4 406.5,227.5 403.6,223.6 405.0,217.8"/>
<polyline fill="none" stroke="#fff" stroke-width="1.2" points="410.8,212.0 406.1,213.0 401.7,220.7 393.9,227.5 389.1,233.7 387.5,243.0 387.1,250.8 386.2,257.5"/>
<polyline fill="none" stroke="#fff" stroke-width="1.2" points="406.5,212.4 405.0,217.8 403.6,223.6 406.5,227.5"/>
<polygon fill="#e9e9e9"  points="390.0,179.1 394.9,178.1 397.8,174.2 401.7,172.3 404.2,174.2 401.7,178.1 403.6,182.0 406.5,187.8 406.9,191.7 403.6,189.7 399.7,184.9 396.8,186.8 395.8,191.7 392.9,190.7 393.9,184.9 390.6,182.9"/>
<polygon fill="#e9e9e9"  points="372.5,250.0 390.0,250.0 392.5,257.5 388.8,265.0 382.5,267.5 376.2,262.5"/>
<polygon fill="#699fce"  points="533.3,128.3 560.0,120.0 566.7,116.7 561.7,112.7 568.3,114.3 573.3,120.7 576.0,128.3 580.8,142.5 586.2,155.0 591.2,167.5 592.5,173.8 595.0,174.5 602.5,172.0 618.8,174.0 622.5,179.5 630.0,181.0 638.0,190.0 643.5,200.0 645.8,210.0 645.5,220.0 642.0,229.0 647.0,226.5 645.0,235.2 637.5,239.0 630.0,240.2 625.0,246.5 620.0,254.0 615.0,257.8 612.5,254.0 607.5,249.0 601.2,251.5 603.8,260.2 601.2,267.8 595.0,274.0 592.5,277.8 590.0,274.0 572.5,282.8 563.8,285.2 561.2,279.0 551.2,279.0 548.8,276.5 540.0,269.0 538.8,265.2 542.5,259.0 540.0,254.0 536.2,251.5 532.5,242.8 537.5,239.0 536.2,227.8 532.0,222.8 533.8,216.5 532.3,206.7 536.7,201.7 541.0,183.3 543.3,171.7 549.0,166.7 549.0,155.5 551.0,149.0 545.2,145.2 540.0,138.0 535.0,138.3"/>
<polygon fill="#b0d1e8"  points="549.0,155.5 551.6,156.8 556.8,159.4 559.4,154.8 563.9,151.6 565.8,156.8 569.7,165.8 570.3,174.8 576.1,183.9 573.5,194.2 568.4,203.2 563.2,213.5 551.6,215.5 546.5,219.0 532.3,216.4 531.6,203.2 537.4,195.5 529.9,186.5 538.7,181.5 541.3,174.2 551.6,165.2"/>
<polyline fill="none" stroke="#fff" stroke-width="1.2" points="549.0,155.5 551.6,156.8 556.8,159.4 559.4,154.8 563.9,151.6 565.8,156.8 569.7,165.8 570.3,174.8 576.1,183.9 573.5,194.2 568.4,203.2 563.2,213.5 551.6,215.5 546.5,219.0 532.3,216.4 531.6,203.2 537.4,195.5 529.9,186.5 538.7,181.5 541.3,174.2 551.6,165.2 549.0,155.5"/>
<polygon fill="#e9e9e9"  points="642.5,189.0 647.5,190.2 652.5,195.2 650.0,197.0 643.8,192.8"/>
<polygon fill="#e9e9e9"  points="572.5,282.8 590.0,274.0 592.5,277.8 575.0,291.5 573.0,286.5"/>
<polygon fill="#699fce"  points="560.0,91.2 563.8,86.2 570.0,87.5 573.8,97.5 568.8,99.5 567.5,93.8"/>
<polygon fill="#699fce"  points="578.4,96.6 586.8,97.3 595.2,101.8 598.4,105.6 604.8,109.5 608.7,116.0 610.0,122.4 614.5,123.7 612.6,126.3 608.7,127.6 607.4,123.7 602.3,119.8 595.8,113.4 589.4,105.6 582.9,103.1 579.7,99.2"/>
<polygon fill="#699fce"  points="607.4,127.6 610.0,128.2 612.6,135.3 610.6,136.0 608.7,131.5"/>
<polygon fill="#699fce"  points="615.2,131.5 617.7,130.8 619.7,135.3 617.1,136.0"/>
<polygon fill="#cde2f0"  points="573.8,127.5 578.8,123.8 586.2,131.2 591.2,140.0 592.5,146.2 587.5,145.0 582.5,143.0 580.0,142.5"/>
<polygon fill="#699fce"  points="599.0,143.1 604.2,141.1 608.7,144.4 611.3,149.5 608.7,154.0 603.5,154.0 601.0,149.5"/>
<polygon fill="#699fce"  points="597.7,162.4 601.0,161.8 602.3,167.6 599.0,168.2"/>
<polygon fill="#699fce"  points="619.7,142.4 621.6,143.1 622.9,145.0 621.0,144.6"/>
<polygon fill="#8ab6db"  points="480.1,249.2 486.8,238.4 500.2,235.0 513.6,236.7 527.0,230.0 531.1,225.0 535.3,235.0 538.7,246.7 540.3,250.1 533.6,255.1 527.0,260.1 518.6,261.0 516.9,261.0 515.3,266.0 506.9,267.6 503.5,268.5 498.5,273.5 496.0,276.0 480.1,280.2 466.8,281.0 465.9,278.5 476.0,272.7 490.2,264.3 486.0,257.6"/>
<polygon fill="#cde2f0"  points="515.0,265.0 545.0,262.0 556.0,270.0 560.0,290.0 565.0,330.0 552.0,337.0 530.0,328.0 520.0,312.0 505.0,300.0 500.0,285.0"/>
<polygon fill="#8ab6db"  points="547.0,275.2 557.1,279.3 568.8,286.0 562.1,291.9 558.7,299.4 549.5,295.2 547.0,286.9"/>
<polygon fill="#cde2f0"  points="496.0,276.0 503.5,268.5 515.3,266.0 516.9,261.0 521.9,264.3 527.0,266.8 525.3,273.5 527.0,280.2 528.6,286.9 523.6,289.4 523.6,295.2 520.3,298.6 513.6,291.9 506.9,288.5 501.9,286.9 497.7,281.9"/>
<polygon fill="#cde2f0"  points="498.5,286.9 506.9,288.5 513.6,291.9 520.3,298.6 521.9,303.6 527.0,308.6 523.6,313.6 515.3,310.3 506.9,305.3 501.0,306.9 499.4,298.6"/>
<polygon fill="#b0d1e8"  points="522.6,227.3 532.9,223.0 534.7,229.9 538.1,238.5 536.4,245.4 543.3,252.3 545.0,262.0 539.8,264.6 529.5,266.1 517.5,264.3 515.7,259.2 520.0,248.8 520.9,236.8"/>
<polygon fill="#cde2f0"  points="527.0,280.2 533.6,278.5 543.7,276.8 548.7,280.2 547.0,286.9 540.3,285.2 533.6,287.7 528.6,286.9"/>
<polygon fill="#e4eef7"  points="524.1,289.5 537.0,286.0 540.4,293.8 537.9,302.4 537.0,314.4 534.4,324.8 531.0,327.3 527.5,319.6 522.4,311.0 523.2,297.2"/>
<polyline fill="none" stroke="#fff" stroke-width="1.2" points="480.1,249.2 486.8,238.4 500.2,235.0 513.6,236.7 527.0,230.0 531.1,225.0 535.3,235.0 538.7,246.7 540.3,250.1 533.6,255.1 527.0,260.1 518.6,261.0 516.9,261.0 515.3,266.0 506.9,267.6 503.5,268.5 498.5,273.5 496.0,276.0 480.1,280.2 466.8,281.0 465.9,278.5 476.0,272.7 490.2,264.3 486.0,257.6 480.1,249.2"/>
<polyline fill="none" stroke="#fff" stroke-width="1.2" points="496.0,276.0 503.5,268.5 515.3,266.0 516.9,261.0 521.9,264.3 527.0,266.8 525.3,273.5 527.0,280.2 528.6,286.9 523.6,289.4 523.6,295.2 520.3,298.6 513.6,291.9 506.9,288.5 501.9,286.9 497.7,281.9 496.0,276.0"/>
<polyline fill="none" stroke="#fff" stroke-width="1.2" points="498.5,286.9 506.9,288.5 513.6,291.9 520.3,298.6 521.9,303.6 527.0,308.6 523.6,313.6 515.3,310.3 506.9,305.3 501.0,306.9 499.4,298.6 498.5,286.9"/>
<polyline fill="none" stroke="#fff" stroke-width="1.2" points="522.6,227.3 532.9,223.0 534.7,229.9 538.1,238.5 536.4,245.4 543.3,252.3 545.0,262.0 539.8,264.6 529.5,266.1 517.5,264.3 515.7,259.2 520.0,248.8 520.9,236.8 522.6,227.3"/>
<polyline fill="none" stroke="#fff" stroke-width="1.2" points="527.0,280.2 533.6,278.5 543.7,276.8 548.7,280.2 547.0,286.9 540.3,285.2 533.6,287.7 528.6,286.9 527.0,280.2"/>
<polyline fill="none" stroke="#fff" stroke-width="1.2" points="524.1,289.5 537.0,286.0 540.4,293.8 537.9,302.4 537.0,314.4 534.4,324.8 531.0,327.3 527.5,319.6 522.4,311.0 523.2,297.2 524.1,289.5"/>
<polygon fill="#cde2f0"  points="538.7,294.6 546.5,292.0 556.8,294.6 559.4,304.1 558.5,314.4 553.4,321.3 563.7,326.5 564.5,329.9 560.2,331.6 559.4,336.8 551.6,335.1 541.3,329.9 534.4,324.8 537.0,314.4 537.9,302.4"/>
<polyline fill="none" stroke="#fff" stroke-width="1.2" points="538.7,294.6 546.5,292.0 556.8,294.6 559.4,304.1 558.5,314.4 553.4,321.3 563.7,326.5 564.5,329.9 560.2,331.6 559.4,336.8 551.6,335.1 541.3,329.9 534.4,324.8 537.0,314.4 537.9,302.4 538.7,294.6"/>
<polygon fill="#8ab6db"  points="540.0,269.0 548.8,276.5 551.2,279.0 561.2,279.0 563.8,285.2 572.5,282.8 573.0,286.5 575.0,291.5 592.5,277.8 595.0,274.0 601.2,267.8 603.8,260.2 606.2,269.0 607.5,279.0 603.8,286.5 605.0,294.0 606.2,300.0 605.0,310.0 607.0,320.0 603.8,330.0 607.5,342.5 606.2,353.8 605.0,366.2 601.2,365.0 595.0,357.5 582.5,350.0 578.8,342.5 572.5,340.0 561.2,335.0 560.0,323.8 563.8,315.0 555.0,312.5 557.1,318.6 560.4,308.6 558.7,298.6 560.4,290.2 557.1,283.5 548.7,280.2"/>
<polyline fill="none" stroke="#fff" stroke-width="1.2" points="540.0,269.0 548.8,276.5 551.2,279.0 561.2,279.0 563.8,285.2 572.5,282.8 573.0,286.5 575.0,291.5 592.5,277.8 595.0,274.0 601.2,267.8 603.8,260.2 606.2,269.0 607.5,279.0 603.8,286.5 605.0,294.0 606.2,300.0 605.0,310.0 607.0,320.0 603.8,330.0 607.5,342.5 606.2,353.8 605.0,366.2 601.2,365.0 595.0,357.5 582.5,350.0 578.8,342.5 572.5,340.0 561.2,335.0 560.0,323.8 563.8,315.0 555.0,312.5 557.1,318.6 560.4,308.6 558.7,298.6 560.4,290.2 557.1,283.5 548.7,280.2 540.0,269.0"/>
<polygon fill="#8ab6db"  points="599.8,251.9 602.5,249.5 604.6,251.3 607.3,256.2 607.3,262.6 613.8,272.3 613.2,277.7 607.3,275.5 603.0,275.5 597.6,280.9 594.9,277.9 590.1,273.2 592.3,272.3 598.2,271.2 603.5,264.8 602.5,260.5 600.3,257.3"/>
<polygon fill="#e4eef7"  points="592.3,268.0 596.6,258.9 602.5,260.5 603.5,264.8 598.2,271.2 592.3,272.3"/>
<polyline fill="none" stroke="#fff" stroke-width="1.2" points="592.3,268.0 596.6,258.9 602.5,260.5 603.5,264.8 598.2,271.2 592.3,272.3 592.3,268.0"/>
<polygon fill="#cde2f0"  points="597.6,280.9 603.0,275.5 607.3,275.5 613.2,277.7 614.8,285.2 611.6,293.8 605.2,297.0 600.9,291.7 598.2,286.3"/>
<polygon fill="#e9e9e9"  points="607.3,250.8 611.6,249.6 615.9,253.4 616.8,258.6 623.7,257.7 626.3,262.0 629.7,266.3 630.6,276.6 635.7,281.8 638.3,285.2 646.1,292.1 649.5,295.6 646.9,298.1 640.9,293.8 635.7,293.0 633.1,299.0 628.8,297.3 626.3,288.7 622.0,281.8 616.8,274.9 615.1,268.0 609.1,259.4"/>
<polyline fill="none" stroke="#fff" stroke-width="1.2" points="606.2,250.8 607.3,256.2 607.3,262.6 613.8,272.3 613.2,277.7 614.8,285.2"/>
<polygon fill="#cde2f0"  points="612.5,358.8 618.0,358.0 620.5,363.8 617.0,367.0 613.0,364.5"/>
<polygon fill="#8ab6db"  points="499.4,306.9 506.9,305.3 515.3,310.3 523.6,313.6 527.0,318.6 532.0,325.3 538.7,325.3 537.5,327.5 540.0,337.5 536.2,345.0 525.0,347.5 515.0,342.5 505.0,337.5 498.8,325.0 500.0,310.0 502.5,305.0"/>
<polygon fill="#e4eef7"  points="623.7,257.7 628.8,250.8 637.5,257.7 642.6,261.1 656.4,269.8 666.7,278.4 670.2,283.5 663.3,284.4 656.4,283.5 652.9,290.4 656.4,293.8 663.3,300.7 671.9,305.9 678.8,311.1 683.9,314.5 680.5,316.2 671.9,311.1 663.3,307.6 656.4,302.5 651.2,297.3 646.1,292.1 638.3,285.2 635.7,281.8 630.6,276.6 629.7,266.3 626.3,262.0"/>
<polygon fill="#8ab6db"  points="627.1,249.1 632.3,241.4 640.9,239.6 646.1,242.2 656.4,250.8 661.5,257.7 670.2,264.6 673.6,274.9 672.7,287.0 668.4,281.8 666.7,273.2 663.3,266.3 658.1,261.1 649.5,259.4 637.5,257.7 628.8,250.8"/>
<polyline fill="none" stroke="#fff" stroke-width="1.2" points="623.7,257.7 628.8,250.8 637.5,257.7 642.6,261.1 656.4,269.8 666.7,278.4"/>
<polyline fill="none" stroke="#fff" stroke-width="1.2" points="630.6,266.3 640.9,268.0 646.1,276.6 656.4,283.5"/>
<polygon fill="#b0d1e8"  points="662.5,326.5 670.0,324.0 690.0,319.0 707.5,316.5 712.5,324.0 707.5,331.5 690.0,334.0 675.0,329.0"/>
<polygon fill="#b0d1e8"  points="700.0,292.8 708.8,289.0 710.0,259.0 713.8,260.2 720.0,274.0 726.2,279.0 728.8,294.0 715.0,300.2 712.5,305.2 707.5,302.8 705.0,297.8"/>
<polygon fill="#e9e9e9"  points="698.8,257.8 707.5,255.2 710.0,259.0 708.8,289.0 702.5,286.5 700.0,269.0"/>
<polygon fill="#cde2f0"  points="665.0,204.0 672.5,201.5 683.8,209.0 687.5,212.8 700.0,214.0 710.0,217.8 712.5,226.5 706.2,230.2 702.5,225.2 698.8,222.8 690.0,225.2 686.2,220.2 677.5,215.2 670.0,211.5"/>
<polygon fill="#b0d1e8"  points="727.5,239.0 730.0,237.8 731.2,254.0 727.5,266.5 738.8,279.0 742.5,284.0 738.8,285.2 726.2,270.2 724.5,256.5"/>
<polygon fill="#b0d1e8"  points="735.0,252.8 737.5,255.2 736.2,262.8 743.8,269.0 742.5,271.5 733.8,265.2"/>
<polygon fill="#b0d1e8"  points="733.8,232.8 738.8,230.2 741.2,236.5 743.8,240.2 740.0,241.5 736.2,236.5"/>
<polygon fill="#b0d1e8"  points="750.0,240.2 755.0,239.0 752.5,249.0 750.0,256.5 747.5,255.2"/>
<polygon fill="#b0d1e8"  points="740.0,249.0 743.8,247.8 745.0,255.2 748.8,264.0 745.0,265.2 741.2,256.5"/>
<polygon fill="#b0d1e8"  points="750.0,222.8 758.8,220.2 758.8,210.2 770.0,206.0 790.0,225.2 783.8,229.0 770.0,227.8 762.5,230.2 760.0,235.2 753.8,230.2 748.8,231.5"/>
<polygon fill="#e9e9e9"  points="770.0,206.0 775.0,201.5 795.0,199.0 811.2,206.5 800.0,210.2 792.5,214.0 790.0,217.8 792.5,222.8 790.0,225.2"/>
<polyline fill="none" stroke="#fff" stroke-width="1.2" points="770.0,206.0 790.0,225.2"/>
<polygon fill="#e9e9e9"  points="776.2,192.8 787.5,182.8 792.5,181.5 796.2,187.8 793.8,194.0 788.8,192.8"/>
<polygon fill="#b0d1e8"  points="715.0,325.2 720.0,322.8 726.2,316.5 733.8,314.0 737.5,310.2 736.2,315.2 727.5,321.5 722.5,327.8 716.2,330.2"/>
<polygon fill="#b0d1e8"  points="740.2,304.0 742.2,303.8 742.5,306.5 740.5,306.8"/>
<polygon fill="#b0d1e8"  points="734.0,306.5 736.0,306.2 736.2,309.0 734.2,309.2"/>
<polygon fill="#b0d1e8"  points="747.8,297.8 749.8,297.5 750.0,300.2 748.0,300.5"/>
<polygon fill="#b0d1e8"  points="752.8,291.5 754.8,291.2 755.0,294.0 753.0,294.2"/>
<polygon fill="#b0d1e8"  points="756.5,284.0 758.5,283.8 758.8,286.5 756.8,286.8"/>
<polygon fill="#b0d1e8"  points="761.5,277.8 763.5,277.5 763.8,280.2 761.8,280.5"/>
<polygon fill="#b0d1e8"  points="763.5,267.8 765.5,267.5 765.8,270.2 763.8,270.5"/>
<polygon fill="#b0d1e8"  points="764.0,257.8 766.0,257.5 766.2,260.2 764.2,260.5"/>
<polygon fill="#b0d1e8"  points="772.8,255.2 774.8,255.0 775.0,257.8 773.0,258.0"/>
<polygon fill="#b0d1e8"  points="769.0,242.8 771.0,242.5 771.2,245.2 769.2,245.5"/>
<polygon fill="#b0d1e8"  points="764.0,247.8 766.0,247.5 766.2,250.2 764.2,250.5"/>
<polygon fill="#b0d1e8"  points="756.5,242.8 758.5,242.5 758.8,245.2 756.8,245.5"/>
<polygon fill="#e9e9e9"  points="799.5,232.5 804.5,233.8 812.0,242.5 817.0,248.8 819.5,255.0 827.0,253.8 833.2,253.8 842.0,256.2 849.5,258.8 859.5,266.2 867.0,275.0 872.0,280.0 875.8,295.0 879.5,305.0 880.8,317.5 881.5,337.5 877.0,352.5 873.2,360.0 863.2,360.0 857.0,355.0 847.0,347.5 844.5,353.8 837.0,352.5 827.0,352.5 819.5,357.5 814.5,370.0 807.0,382.5 799.5,390.0 797.0,399.0 789.5,399.0 782.0,390.0 779.5,382.5 772.0,380.0 772.0,372.5 767.0,360.0 769.5,347.5 774.5,342.5 777.0,330.0 775.8,315.0 774.5,307.5 778.2,302.5 779.5,287.5 784.5,282.5 783.2,275.0 784.5,265.0 790.8,257.5 795.8,257.5 799.5,266.2 818.2,267.5 818.2,260.0 814.5,250.0 808.2,243.8 800.8,238.8"/>
<polygon fill="#e9e9e9"  points="869.5,371.2 878.2,366.2 880.8,373.8 875.8,382.5 872.0,380.0"/>
<polygon fill="#e9e9e9"  points="907.0,293.8 912.0,296.2 917.0,302.5 922.0,307.5 925.8,306.2 923.2,317.5 919.5,330.0 917.0,337.5 914.5,347.5 912.0,360.0 909.5,372.5 908.2,382.5 907.0,375.0 904.5,373.8 907.0,360.0 909.5,347.5 912.0,335.0 915.8,325.0 917.0,315.0 914.5,305.0"/>
<polygon fill="#e9e9e9"  points="872.0,169.5 875.8,168.0 876.5,171.2 873.2,172.0"/>
<polygon fill="#e9e9e9"  points="876.5,176.2 880.0,175.0 881.5,180.0 878.2,181.2"/>
<polygon fill="#e9e9e9"  points="865.8,215.5 875.8,213.0 877.5,215.5 868.2,217.5"/>
<polygon fill="#fff"  points="495.2,276.0 497.7,281.9 501.5,287.2 498.9,288.9 498.9,298.6 500.5,306.6 495.2,309.4 487.7,310.3 480.1,308.6 476.0,303.6 474.3,295.2 473.4,288.5 480.1,281.0"/>
</g>
<g id="clusters">
<circle cx="126.1" cy="158.0" r="12.9" fill="none" stroke="#505050" stroke-width="0.6"/>
<circle cx="106.8" cy="207.7" r="7.1" fill="none" stroke="#505050" stroke-width="0.6"/>
<circle cx="148.4" cy="231.3" r="9.0" fill="none" stroke="#505050" stroke-width="0.6"/>
<circle cx="104.5" cy="265.7" r="7.2" fill="none" stroke="#505050" stroke-width="0.6"/>
<circle cx="134.6" cy="244.5" r="7.2" fill="none" stroke="#505050" stroke-width="0.6"/>
<circle cx="150.1" cy="265.7" r="7.7" fill="none" stroke="#505050" stroke-width="0.6"/>
<circle cx="79.4" cy="298.8" r="7.5" fill="none" stroke="#505050" stroke-width="0.6"/>
<circle cx="104.2" cy="306.3" r="11.9" fill="none" stroke="#505050" stroke-width="0.6"/>
<circle cx="132.6" cy="309.4" r="9.0" fill="none" stroke="#505050" stroke-width="0.6"/>
<circle cx="66.1" cy="332.7" r="12.3" fill="none" stroke="#505050" stroke-width="0.6"/>
<circle cx="85.5" cy="392.5" r="10.0" fill="none" stroke="#505050" stroke-width="0.6"/>
<circle cx="141.8" cy="414.2" r="10.0" fill="none" stroke="#505050" stroke-width="0.6"/>
<circle cx="55.2" cy="455.0" r="7.2" fill="none" stroke="#505050" stroke-width="0.6"/>
<circle cx="87.8" cy="469.8" r="7.2" fill="none" stroke="#505050" stroke-width="0.6"/>
<circle cx="352.8" cy="372.7" r="11.3" fill="none" stroke="#505050" stroke-width="0.6"/>
<circle cx="289.1" cy="403.3" r="7.5" fill="none" stroke="#505050" stroke-width="0.6"/>
<circle cx="330.2" cy="408.3" r="11.0" fill="none" stroke="#505050" stroke-width="0.6"/>
<circle cx="366.8" cy="416.0" r="8.0" fill="none" stroke="#505050" stroke-width="0.6"/>
<circle cx="314.7" cy="442.4" r="8.0" fill="none" stroke="#505050" stroke-width="0.6"/>
<circle cx="363.6" cy="444.9" r="8.0" fill="none" stroke="#505050" stroke-width="0.6"/>
<circle cx="480.8" cy="437.5" r="7.8" fill="none" stroke="#505050" stroke-width="0.6"/>
<circle cx="457.5" cy="514.5" r="8.0" fill="none" stroke="#505050" stroke-width="0.6"/>
<circle cx="473.8" cy="520.8" r="9.5" fill="none" stroke="#505050" stroke-width="0.6"/>
<circle cx="473.8" cy="545.0" r="7.2" fill="none" stroke="#505050" stroke-width="0.6"/>
<circle cx="556.2" cy="543.2" r="8.0" fill="none" stroke="#505050" stroke-width="0.6"/>
<circle cx="477.5" cy="205.8" r="7.0" fill="none" stroke="#505050" stroke-width="0.6"/>
<circle cx="555.5" cy="189.0" r="12.0" fill="none" stroke="#505050" stroke-width="0.6"/>
<circle cx="503.5" cy="248.4" r="12.5" fill="none" stroke="#505050" stroke-width="0.6"/>
<circle cx="531.1" cy="253.4" r="10.4" fill="none" stroke="#505050" stroke-width="0.6"/>
<circle cx="512.7" cy="278.5" r="10.4" fill="none" stroke="#505050" stroke-width="0.6"/>
<circle cx="534.5" cy="274.3" r="9.7" fill="none" stroke="#505050" stroke-width="0.6"/>
<circle cx="507.7" cy="296.9" r="7.5" fill="none" stroke="#505050" stroke-width="0.6"/>
<circle cx="547.9" cy="308.1" r="7.5" fill="none" stroke="#505050" stroke-width="0.6"/>
<circle cx="486.3" cy="299.7" r="13.0" fill="none" stroke="#505050" stroke-width="0.6"/>
<circle cx="583.0" cy="321.2" r="15.0" fill="none" stroke="#505050" stroke-width="0.6"/>
<circle cx="606.8" cy="287.0" r="8.0" fill="none" stroke="#505050" stroke-width="0.6"/>
<circle cx="651.2" cy="252.8" r="13.8" fill="none" stroke="#505050" stroke-width="0.6"/>
<circle cx="660.5" cy="274.0" r="7.5" fill="none" stroke="#505050" stroke-width="0.6"/>
<circle cx="693.8" cy="217.8" r="7.5" fill="none" stroke="#505050" stroke-width="0.6"/>
<circle cx="676.8" cy="310.8" r="7.0" fill="none" stroke="#505050" stroke-width="0.6"/>
<circle cx="699.2" cy="325.2" r="11.2" fill="none" stroke="#505050" stroke-width="0.6"/>
<circle cx="601.0" cy="110.8" r="18.9" fill="none" stroke="#505050" stroke-width="0.6"/>
<circle cx="608.2" cy="151.9" r="18.4" fill="none" stroke="#505050" stroke-width="0.6"/>
<circle cx="584.0" cy="138.1" r="7.6" fill="none" stroke="#505050" stroke-width="0.6"/>
<circle cx="596.5" cy="211.2" r="24.2" fill="none" stroke="#505050" stroke-width="0.6"/>
<circle cx="489.2" cy="374.2" r="10.5" fill="none" stroke="#505050" stroke-width="0.6"/>
<circle cx="530.8" cy="378.0" r="11.2" fill="none" stroke="#505050" stroke-width="0.6"/>
<circle cx="521.8" cy="357.5" r="10.5" fill="none" stroke="#505050" stroke-width="0.6"/>
<circle cx="502.0" cy="354.5" r="8.0" fill="none" stroke="#505050" stroke-width="0.6"/>
<circle cx="465.4" cy="323.2" r="16.0" fill="none" stroke="#505050" stroke-width="0.6"/>
<circle cx="493.0" cy="324.2" r="9.5" fill="none" stroke="#505050" stroke-width="0.6"/>
<circle cx="517.4" cy="330.0" r="13.1" fill="none" stroke="#505050" stroke-width="0.6"/>
<circle cx="481.8" cy="342.8" r="7.6" fill="none" stroke="#505050" stroke-width="0.6"/>
<circle cx="462.8" cy="356.6" r="7.0" fill="none" stroke="#505050" stroke-width="0.6"/>
<circle cx="438.9" cy="376.0" r="6.8" fill="none" stroke="#505050" stroke-width="0.6"/>
<circle cx="427.4" cy="348.4" r="10.2" fill="none" stroke="#505050" stroke-width="0.6"/>
<circle cx="446.3" cy="348.4" r="7.9" fill="none" stroke="#505050" stroke-width="0.6"/>
<circle cx="411.0" cy="340.6" r="7.3" fill="none" stroke="#505050" stroke-width="0.6"/>
<circle cx="340.3" cy="269.5" r="6.6" fill="none" stroke="#505050" stroke-width="0.6"/>
<circle cx="361.8" cy="273.6" r="13.1" fill="none" stroke="#505050" stroke-width="0.6"/>
<circle cx="341.3" cy="297.3" r="16.7" fill="none" stroke="#505050" stroke-width="0.6"/>
<circle cx="366.4" cy="295.9" r="7.9" fill="none" stroke="#505050" stroke-width="0.6"/>
<circle cx="386.7" cy="278.9" r="8.5" fill="none" stroke="#505050" stroke-width="0.6"/>
<circle cx="386.5" cy="297.3" r="10.2" fill="none" stroke="#505050" stroke-width="0.6"/>
<circle cx="322.6" cy="318.9" r="9.7" fill="none" stroke="#505050" stroke-width="0.6"/>
<circle cx="345.8" cy="328.6" r="15.0" fill="none" stroke="#505050" stroke-width="0.6"/>
<circle cx="371.5" cy="316.5" r="12.1" fill="none" stroke="#505050" stroke-width="0.6"/>
<circle cx="324.5" cy="351.3" r="10.2" fill="none" stroke="#505050" stroke-width="0.6"/>
<circle cx="381.2" cy="335.8" r="8.2" fill="none" stroke="#505050" stroke-width="0.6"/>
<circle cx="415.8" cy="256.9" r="8.5" fill="none" stroke="#505050" stroke-width="0.6"/>
<circle cx="405.3" cy="271.9" r="7.7" fill="none" stroke="#505050" stroke-width="0.6"/>
<circle cx="421.6" cy="281.6" r="10.8" fill="none" stroke="#505050" stroke-width="0.6"/>
<circle cx="453.1" cy="285.0" r="7.6" fill="none" stroke="#505050" stroke-width="0.6"/>
<circle cx="438.0" cy="296.1" r="10.5" fill="none" stroke="#505050" stroke-width="0.6"/>
<circle cx="406.5" cy="296.1" r="9.2" fill="none" stroke="#505050" stroke-width="0.6"/>
<circle cx="463.9" cy="297.6" r="7.9" fill="none" stroke="#505050" stroke-width="0.6"/>
<circle cx="398.6" cy="320.0" r="13.6" fill="none" stroke="#505050" stroke-width="0.6"/>
<circle cx="421.3" cy="308.4" r="9.2" fill="none" stroke="#505050" stroke-width="0.6"/>
<circle cx="439.5" cy="318.1" r="9.5" fill="none" stroke="#505050" stroke-width="0.6"/>
<circle cx="423.7" cy="329.2" r="8.2" fill="none" stroke="#505050" stroke-width="0.6"/>
<circle cx="396.1" cy="346.1" r="7.9" fill="none" stroke="#505050" stroke-width="0.6"/>
<circle cx="126.1" cy="158.0" r="2.40" fill="#23418f" stroke="#1d3678" stroke-width="0.5"/>
<circle cx="125.2" cy="150.6" r="2.40" fill="#fff" stroke="#8c8c8c" stroke-width="0.5"/>
<circle cx="130.6" cy="151.5" r="2.40" fill="#fff" stroke="#8c8c8c" stroke-width="0.5"/>
<circle cx="133.9" cy="156.7" r="2.40" fill="#fff" stroke="#8c8c8c" stroke-width="0.5"/>
<circle cx="132.6" cy="162.9" r="2.40" fill="#fff" stroke="#8c8c8c" stroke-width="0.5"/>
<circle cx="127.1" cy="166.1" r="2.40" fill="#23418f" stroke="#1d3678" stroke-width="0.5"/>
<circle cx="121.0" cy="164.5" r="2.40" fill="#8fb6f8" stroke="#4a7fd8" stroke-width="0.6"/>
<circle cx="117.7" cy="158.8" r="2.40" fill="#8fb6f8" stroke="#4a7fd8" stroke-width="0.6"/>
<circle cx="119.4" cy="152.6" r="2.40" fill="#8fb6f8" stroke="#4a7fd8" stroke-width="0.6"/>
<circle cx="104.3" cy="206.1" r="2.40" fill="#23418f" stroke="#1d3678" stroke-width="0.5"/>
<circle cx="109.4" cy="209.6" r="2.40" fill="#23418f" stroke="#1d3678" stroke-width="0.5"/>
<circle cx="119.6" cy="212.6" r="2.40" fill="#23418f" stroke="#1d3678" stroke-width="0.5"/>
<circle cx="106.1" cy="221.7" r="2.40" fill="#23418f" stroke="#1d3678" stroke-width="0.5"/>
<circle cx="113.3" cy="228.1" r="2.40" fill="#23418f" stroke="#1d3678" stroke-width="0.5"/>
<circle cx="148.0" cy="227.4" r="2.40" fill="#23418f" stroke="#1d3678" stroke-width="0.5"/>
<circle cx="153.3" cy="231.5" r="2.40" fill="#23418f" stroke="#1d3678" stroke-width="0.5"/>
<circle cx="148.8" cy="235.4" r="2.40" fill="#23418f" stroke="#1d3678" stroke-width="0.5"/>
<circle cx="143.5" cy="232.3" r="2.40" fill="#8fb6f8" stroke="#4a7fd8" stroke-width="0.6"/>
<circle cx="106.5" cy="237.1" r="2.40" fill="#8fb6f8" stroke="#4a7fd8" stroke-width="0.6"/>
<circle cx="100.0" cy="249.4" r="2.40" fill="#fff" stroke="#8c8c8c" stroke-width="0.5"/>
<circle cx="101.5" cy="264.2" r="2.40" fill="#8fb6f8" stroke="#4a7fd8" stroke-width="0.6"/>
<circle cx="107.1" cy="267.8" r="2.40" fill="#fff" stroke="#8c8c8c" stroke-width="0.5"/>
<circle cx="131.6" cy="242.6" r="2.40" fill="#8fb6f8" stroke="#4a7fd8" stroke-width="0.6"/>
<circle cx="137.2" cy="246.4" r="2.40" fill="#23418f" stroke="#1d3678" stroke-width="0.5"/>
<circle cx="147.5" cy="263.8" r="2.40" fill="#8fb6f8" stroke="#4a7fd8" stroke-width="0.6"/>
<circle cx="153.3" cy="264.5" r="2.40" fill="#23418f" stroke="#1d3678" stroke-width="0.5"/>
<circle cx="149.4" cy="269.6" r="2.40" fill="#8fb6f8" stroke="#4a7fd8" stroke-width="0.6"/>
<circle cx="76.5" cy="296.2" r="2.40" fill="#23418f" stroke="#1d3678" stroke-width="0.5"/>
<circle cx="82.5" cy="297.1" r="2.40" fill="#fff" stroke="#8c8c8c" stroke-width="0.5"/>
<circle cx="78.0" cy="302.3" r="2.40" fill="#fff" stroke="#8c8c8c" stroke-width="0.5"/>
<circle cx="104.2" cy="306.3" r="2.40" fill="#23418f" stroke="#1d3678" stroke-width="0.5"/>
<circle cx="104.5" cy="299.4" r="2.40" fill="#fff" stroke="#8c8c8c" stroke-width="0.5"/>
<circle cx="109.7" cy="302.4" r="2.40" fill="#fff" stroke="#8c8c8c" stroke-width="0.5"/>
<circle cx="111.7" cy="307.8" r="2.40" fill="#fff" stroke="#8c8c8c" stroke-width="0.5"/>
<circle cx="107.8" cy="313.0" r="2.40" fill="#8fb6f8" stroke="#4a7fd8" stroke-width="0.6"/>
<circle cx="102.0" cy="314.0" r="2.40" fill="#fff" stroke="#8c8c8c" stroke-width="0.5"/>
<circle cx="98.0" cy="309.1" r="2.40" fill="#fff" stroke="#8c8c8c" stroke-width="0.5"/>
<circle cx="98.4" cy="302.6" r="2.40" fill="#8fb6f8" stroke="#4a7fd8" stroke-width="0.6"/>
<circle cx="132.2" cy="304.8" r="2.40" fill="#fff" stroke="#8c8c8c" stroke-width="0.5"/>
<circle cx="137.4" cy="309.1" r="2.40" fill="#8fb6f8" stroke="#4a7fd8" stroke-width="0.6"/>
<circle cx="132.8" cy="313.6" r="2.40" fill="#8fb6f8" stroke="#4a7fd8" stroke-width="0.6"/>
<circle cx="127.4" cy="309.7" r="2.40" fill="#8fb6f8" stroke="#4a7fd8" stroke-width="0.6"/>
<circle cx="66.1" cy="332.7" r="2.40" fill="#fff" stroke="#8c8c8c" stroke-width="0.5"/>
<circle cx="65.2" cy="324.8" r="2.40" fill="#fff" stroke="#8c8c8c" stroke-width="0.5"/>
<circle cx="71.0" cy="326.1" r="2.40" fill="#fff" stroke="#8c8c8c" stroke-width="0.5"/>
<circle cx="74.1" cy="331.7" r="2.40" fill="#fff" stroke="#8c8c8c" stroke-width="0.5"/>
<circle cx="73.0" cy="337.5" r="2.40" fill="#8fb6f8" stroke="#4a7fd8" stroke-width="0.6"/>
<circle cx="67.2" cy="340.7" r="2.40" fill="#8fb6f8" stroke="#4a7fd8" stroke-width="0.6"/>
<circle cx="61.4" cy="339.4" r="2.40" fill="#8fb6f8" stroke="#4a7fd8" stroke-width="0.6"/>
<circle cx="58.0" cy="333.6" r="2.40" fill="#8fb6f8" stroke="#4a7fd8" stroke-width="0.6"/>
<circle cx="59.4" cy="327.8" r="2.40" fill="#8fb6f8" stroke="#4a7fd8" stroke-width="0.6"/>
<circle cx="85.8" cy="386.8" r="2.40" fill="#fff" stroke="#8c8c8c" stroke-width="0.5"/>
<circle cx="90.5" cy="390.8" r="2.40" fill="#8fb6f8" stroke="#4a7fd8" stroke-width="0.6"/>
<circle cx="88.5" cy="396.2" r="2.40" fill="#23418f" stroke="#1d3678" stroke-width="0.5"/>
<circle cx="82.2" cy="396.8" r="2.40" fill="#fff" stroke="#8c8c8c" stroke-width="0.5"/>
<circle cx="80.8" cy="390.8" r="2.40" fill="#fff" stroke="#8c8c8c" stroke-width="0.5"/>
<circle cx="141.8" cy="408.5" r="2.40" fill="#8fb6f8" stroke="#4a7fd8" stroke-width="0.6"/>
<circle cx="146.8" cy="412.5" r="2.40" fill="#8fb6f8" stroke="#4a7fd8" stroke-width="0.6"/>
<circle cx="144.8" cy="418.2" r="2.40" fill="#23418f" stroke="#1d3678" stroke-width="0.5"/>
<circle cx="138.2" cy="418.2" r="2.40" fill="#23418f" stroke="#1d3678" stroke-width="0.5"/>
<circle cx="136.8" cy="412.5" r="2.40" fill="#fff" stroke="#8c8c8c" stroke-width="0.5"/>
<circle cx="52.2" cy="414.2" r="2.40" fill="#23418f" stroke="#1d3678" stroke-width="0.5"/>
<circle cx="57.2" cy="452.8" r="2.40" fill="#23418f" stroke="#1d3678" stroke-width="0.5"/>
<circle cx="52.8" cy="457.8" r="2.40" fill="#fff" stroke="#8c8c8c" stroke-width="0.5"/>
<circle cx="87.8" cy="467.0" r="2.40" fill="#23418f" stroke="#1d3678" stroke-width="0.5"/>
<circle cx="87.8" cy="472.8" r="2.40" fill="#23418f" stroke="#1d3678" stroke-width="0.5"/>
<circle cx="352.8" cy="366.4" r="2.40" fill="#fff" stroke="#8c8c8c" stroke-width="0.5"/>
<circle cx="346.0" cy="372.2" r="2.40" fill="#8fb6f8" stroke="#4a7fd8" stroke-width="0.6"/>
<circle cx="352.8" cy="372.7" r="2.40" fill="#fff" stroke="#8c8c8c" stroke-width="0.5"/>
<circle cx="359.1" cy="371.9" r="2.40" fill="#fff" stroke="#8c8c8c" stroke-width="0.5"/>
<circle cx="348.5" cy="378.9" r="2.40" fill="#23418f" stroke="#1d3678" stroke-width="0.5"/>
<circle cx="356.6" cy="378.9" r="2.40" fill="#23418f" stroke="#1d3678" stroke-width="0.5"/>
<circle cx="374.1" cy="355.6" r="2.40" fill="#fff" stroke="#8c8c8c" stroke-width="0.5"/>
<circle cx="278.9" cy="407.3" r="2.40" fill="#fff" stroke="#8c8c8c" stroke-width="0.5"/>
<circle cx="291.6" cy="420.3" r="2.40" fill="#23418f" stroke="#1d3678" stroke-width="0.5"/>
<circle cx="331.7" cy="428.1" r="2.40" fill="#23418f" stroke="#1d3678" stroke-width="0.5"/>
<circle cx="344.8" cy="438.3" r="2.40" fill="#8fb6f8" stroke="#4a7fd8" stroke-width="0.6"/>
<circle cx="338.8" cy="445.1" r="2.40" fill="#8fb6f8" stroke="#4a7fd8" stroke-width="0.6"/>
<circle cx="415.0" cy="452.9" r="2.40" fill="#23418f" stroke="#1d3678" stroke-width="0.5"/>
<circle cx="287.6" cy="401.0" r="2.40" fill="#fff" stroke="#8c8c8c" stroke-width="0.5"/>
<circle cx="291.4" cy="405.8" r="2.40" fill="#8fb6f8" stroke="#4a7fd8" stroke-width="0.6"/>
<circle cx="326.0" cy="402.8" r="2.40" fill="#fff" stroke="#8c8c8c" stroke-width="0.5"/>
<circle cx="333.0" cy="401.5" r="2.40" fill="#8fb6f8" stroke="#4a7fd8" stroke-width="0.6"/>
<circle cx="323.5" cy="410.3" r="2.40" fill="#23418f" stroke="#1d3678" stroke-width="0.5"/>
<circle cx="329.7" cy="408.3" r="2.40" fill="#23418f" stroke="#1d3678" stroke-width="0.5"/>
<circle cx="336.5" cy="409.8" r="2.40" fill="#fff" stroke="#8c8c8c" stroke-width="0.5"/>
<circle cx="330.2" cy="415.3" r="2.40" fill="#fff" stroke="#8c8c8c" stroke-width="0.5"/>
<circle cx="363.6" cy="415.3" r="2.40" fill="#8fb6f8" stroke="#4a7fd8" stroke-width="0.6"/>
<circle cx="369.8" cy="414.0" r="2.40" fill="#23418f" stroke="#1d3678" stroke-width="0.5"/>
<circle cx="368.1" cy="419.8" r="2.40" fill="#fff" stroke="#8c8c8c" stroke-width="0.5"/>
<circle cx="311.4" cy="441.6" r="2.40" fill="#23418f" stroke="#1d3678" stroke-width="0.5"/>
<circle cx="317.5" cy="440.4" r="2.40" fill="#23418f" stroke="#1d3678" stroke-width="0.5"/>
<circle cx="316.0" cy="446.1" r="2.40" fill="#23418f" stroke="#1d3678" stroke-width="0.5"/>
<circle cx="360.3" cy="444.1" r="2.40" fill="#fff" stroke="#8c8c8c" stroke-width="0.5"/>
<circle cx="366.8" cy="442.9" r="2.40" fill="#fff" stroke="#8c8c8c" stroke-width="0.5"/>
<circle cx="364.3" cy="448.4" r="2.40" fill="#fff" stroke="#8c8c8c" stroke-width="0.5"/>
<circle cx="477.5" cy="436.8" r="2.40" fill="#8fb6f8" stroke="#4a7fd8" stroke-width="0.6"/>
<circle cx="484.0" cy="435.5" r="2.40" fill="#8fb6f8" stroke="#4a7fd8" stroke-width="0.6"/>
<circle cx="481.5" cy="441.2" r="2.40" fill="#fff" stroke="#8c8c8c" stroke-width="0.5"/>
<circle cx="459.8" cy="467.8" r="2.40" fill="#fff" stroke="#8c8c8c" stroke-width="0.5"/>
<circle cx="453.8" cy="487.0" r="2.40" fill="#23418f" stroke="#1d3678" stroke-width="0.5"/>
<circle cx="454.5" cy="548.8" r="2.40" fill="#8fb6f8" stroke="#4a7fd8" stroke-width="0.6"/>
<circle cx="522.5" cy="529.0" r="2.40" fill="#fff" stroke="#8c8c8c" stroke-width="0.5"/>
<circle cx="453.8" cy="513.8" r="2.40" fill="#23418f" stroke="#1d3678" stroke-width="0.5"/>
<circle cx="460.2" cy="512.5" r="2.40" fill="#fff" stroke="#8c8c8c" stroke-width="0.5"/>
<circle cx="458.0" cy="518.2" r="2.40" fill="#fff" stroke="#8c8c8c" stroke-width="0.5"/>
<circle cx="473.5" cy="515.5" r="2.40" fill="#23418f" stroke="#1d3678" stroke-width="0.5"/>
<circle cx="469.5" cy="520.5" r="2.40" fill="#8fb6f8" stroke="#4a7fd8" stroke-width="0.6"/>
<circle cx="478.2" cy="520.5" r="2.40" fill="#8fb6f8" stroke="#4a7fd8" stroke-width="0.6"/>
<circle cx="470.5" cy="526.2" r="2.40" fill="#fff" stroke="#8c8c8c" stroke-width="0.5"/>
<circle cx="477.0" cy="526.2" r="2.40" fill="#fff" stroke="#8c8c8c" stroke-width="0.5"/>
<circle cx="473.8" cy="542.0" r="2.40" fill="#fff" stroke="#8c8c8c" stroke-width="0.5"/>
<circle cx="474.0" cy="548.2" r="2.40" fill="#23418f" stroke="#1d3678" stroke-width="0.5"/>
<circle cx="553.8" cy="541.2" r="2.40" fill="#23418f" stroke="#1d3678" stroke-width="0.5"/>
<circle cx="559.5" cy="542.0" r="2.40" fill="#23418f" stroke="#1d3678" stroke-width="0.5"/>
<circle cx="555.5" cy="547.0" r="2.40" fill="#23418f" stroke="#1d3678" stroke-width="0.5"/>
<circle cx="401.8" cy="563.8" r="2.40" fill="#fff" stroke="#8c8c8c" stroke-width="0.5"/>
<circle cx="505.8" cy="402.0" r="2.40" fill="#23418f" stroke="#1d3678" stroke-width="0.5"/>
<circle cx="616.8" cy="363.5" r="2.40" fill="#8fb6f8" stroke="#4a7fd8" stroke-width="0.6"/>
<circle cx="479.2" cy="203.0" r="2.40" fill="#23418f" stroke="#1d3678" stroke-width="0.5"/>
<circle cx="475.8" cy="208.5" r="2.40" fill="#8fb6f8" stroke="#4a7fd8" stroke-width="0.6"/>
<circle cx="555.8" cy="189.0" r="2.40" fill="#23418f" stroke="#1d3678" stroke-width="0.5"/>
<circle cx="556.2" cy="182.8" r="2.40" fill="#fff" stroke="#8c8c8c" stroke-width="0.5"/>
<circle cx="562.5" cy="185.2" r="2.40" fill="#fff" stroke="#8c8c8c" stroke-width="0.5"/>
<circle cx="563.2" cy="191.0" r="2.40" fill="#fff" stroke="#8c8c8c" stroke-width="0.5"/>
<circle cx="559.2" cy="195.8" r="2.40" fill="#8fb6f8" stroke="#4a7fd8" stroke-width="0.6"/>
<circle cx="553.0" cy="196.5" r="2.40" fill="#23418f" stroke="#1d3678" stroke-width="0.5"/>
<circle cx="549.2" cy="192.0" r="2.40" fill="#23418f" stroke="#1d3678" stroke-width="0.5"/>
<circle cx="550.0" cy="186.0" r="2.40" fill="#8fb6f8" stroke="#4a7fd8" stroke-width="0.6"/>
<circle cx="503.9" cy="239.7" r="2.40" fill="#fff" stroke="#8c8c8c" stroke-width="0.5"/>
<circle cx="497.7" cy="242.1" r="2.40" fill="#fff" stroke="#8c8c8c" stroke-width="0.5"/>
<circle cx="509.9" cy="242.1" r="2.40" fill="#fff" stroke="#8c8c8c" stroke-width="0.5"/>
<circle cx="503.5" cy="245.4" r="2.40" fill="#23418f" stroke="#1d3678" stroke-width="0.5"/>
<circle cx="495.7" cy="248.1" r="2.40" fill="#fff" stroke="#8c8c8c" stroke-width="0.5"/>
<circle cx="511.9" cy="248.1" r="2.40" fill="#fff" stroke="#8c8c8c" stroke-width="0.5"/>
<circle cx="503.9" cy="250.9" r="2.40" fill="#8fb6f8" stroke="#4a7fd8" stroke-width="0.6"/>
<circle cx="497.2" cy="253.8" r="2.40" fill="#fff" stroke="#8c8c8c" stroke-width="0.5"/>
<circle cx="509.9" cy="253.8" r="2.40" fill="#8fb6f8" stroke="#4a7fd8" stroke-width="0.6"/>
<circle cx="503.5" cy="256.8" r="2.40" fill="#8fb6f8" stroke="#4a7fd8" stroke-width="0.6"/>
<circle cx="529.0" cy="247.6" r="2.40" fill="#fff" stroke="#8c8c8c" stroke-width="0.5"/>
<circle cx="535.8" cy="248.4" r="2.40" fill="#8fb6f8" stroke="#4a7fd8" stroke-width="0.6"/>
<circle cx="524.1" cy="252.6" r="2.40" fill="#fff" stroke="#8c8c8c" stroke-width="0.5"/>
<circle cx="531.1" cy="253.8" r="2.40" fill="#23418f" stroke="#1d3678" stroke-width="0.5"/>
<circle cx="537.5" cy="255.1" r="2.40" fill="#8fb6f8" stroke="#4a7fd8" stroke-width="0.6"/>
<circle cx="527.0" cy="259.3" r="2.40" fill="#fff" stroke="#8c8c8c" stroke-width="0.5"/>
<circle cx="533.3" cy="260.5" r="2.40" fill="#fff" stroke="#8c8c8c" stroke-width="0.5"/>
<circle cx="510.7" cy="272.3" r="2.40" fill="#fff" stroke="#8c8c8c" stroke-width="0.5"/>
<circle cx="517.4" cy="273.5" r="2.40" fill="#23418f" stroke="#1d3678" stroke-width="0.5"/>
<circle cx="506.1" cy="277.7" r="2.40" fill="#8fb6f8" stroke="#4a7fd8" stroke-width="0.6"/>
<circle cx="512.7" cy="278.5" r="2.40" fill="#23418f" stroke="#1d3678" stroke-width="0.5"/>
<circle cx="519.1" cy="279.3" r="2.40" fill="#8fb6f8" stroke="#4a7fd8" stroke-width="0.6"/>
<circle cx="508.9" cy="283.5" r="2.40" fill="#8fb6f8" stroke="#4a7fd8" stroke-width="0.6"/>
<circle cx="515.3" cy="284.7" r="2.40" fill="#8fb6f8" stroke="#4a7fd8" stroke-width="0.6"/>
<circle cx="534.5" cy="269.6" r="2.40" fill="#fff" stroke="#8c8c8c" stroke-width="0.5"/>
<circle cx="529.8" cy="273.5" r="2.40" fill="#8fb6f8" stroke="#4a7fd8" stroke-width="0.6"/>
<circle cx="539.5" cy="273.5" r="2.40" fill="#8fb6f8" stroke="#4a7fd8" stroke-width="0.6"/>
<circle cx="531.1" cy="279.3" r="2.40" fill="#8fb6f8" stroke="#4a7fd8" stroke-width="0.6"/>
<circle cx="537.5" cy="279.3" r="2.40" fill="#23418f" stroke="#1d3678" stroke-width="0.5"/>
<circle cx="508.1" cy="293.6" r="2.40" fill="#8fb6f8" stroke="#4a7fd8" stroke-width="0.6"/>
<circle cx="504.4" cy="298.6" r="2.40" fill="#23418f" stroke="#1d3678" stroke-width="0.5"/>
<circle cx="510.6" cy="299.1" r="2.40" fill="#23418f" stroke="#1d3678" stroke-width="0.5"/>
<circle cx="529.1" cy="306.9" r="2.40" fill="#8fb6f8" stroke="#4a7fd8" stroke-width="0.6"/>
<circle cx="547.9" cy="305.3" r="2.40" fill="#8fb6f8" stroke="#4a7fd8" stroke-width="0.6"/>
<circle cx="544.8" cy="310.3" r="2.40" fill="#fff" stroke="#8c8c8c" stroke-width="0.5"/>
<circle cx="550.4" cy="310.8" r="2.40" fill="#8fb6f8" stroke="#4a7fd8" stroke-width="0.6"/>
<circle cx="485.2" cy="290.2" r="2.40" fill="#fff" stroke="#8c8c8c" stroke-width="0.5"/>
<circle cx="491.5" cy="291.9" r="2.40" fill="#fff" stroke="#8c8c8c" stroke-width="0.5"/>
<circle cx="478.8" cy="293.9" r="2.40" fill="#23418f" stroke="#1d3678" stroke-width="0.5"/>
<circle cx="484.3" cy="296.9" r="2.40" fill="#23418f" stroke="#1d3678" stroke-width="0.5"/>
<circle cx="495.7" cy="296.1" r="2.40" fill="#fff" stroke="#8c8c8c" stroke-width="0.5"/>
<circle cx="477.6" cy="300.6" r="2.40" fill="#8fb6f8" stroke="#4a7fd8" stroke-width="0.6"/>
<circle cx="490.2" cy="299.1" r="2.40" fill="#23418f" stroke="#1d3678" stroke-width="0.5"/>
<circle cx="484.6" cy="302.4" r="2.40" fill="#23418f" stroke="#1d3678" stroke-width="0.5"/>
<circle cx="495.2" cy="303.1" r="2.40" fill="#fff" stroke="#8c8c8c" stroke-width="0.5"/>
<circle cx="479.3" cy="306.1" r="2.40" fill="#23418f" stroke="#1d3678" stroke-width="0.5"/>
<circle cx="490.7" cy="307.8" r="2.40" fill="#8fb6f8" stroke="#4a7fd8" stroke-width="0.6"/>
<circle cx="484.3" cy="309.4" r="2.40" fill="#8fb6f8" stroke="#4a7fd8" stroke-width="0.6"/>
<circle cx="578.8" cy="310.8" r="2.40" fill="#8fb6f8" stroke="#4a7fd8" stroke-width="0.6"/>
<circle cx="585.0" cy="310.0" r="2.40" fill="#fff" stroke="#8c8c8c" stroke-width="0.5"/>
<circle cx="591.2" cy="313.0" r="2.40" fill="#fff" stroke="#8c8c8c" stroke-width="0.5"/>
<circle cx="573.8" cy="315.0" r="2.40" fill="#23418f" stroke="#1d3678" stroke-width="0.5"/>
<circle cx="583.2" cy="317.0" r="2.40" fill="#23418f" stroke="#1d3678" stroke-width="0.5"/>
<circle cx="594.2" cy="318.8" r="2.40" fill="#8fb6f8" stroke="#4a7fd8" stroke-width="0.6"/>
<circle cx="572.0" cy="321.2" r="2.40" fill="#23418f" stroke="#1d3678" stroke-width="0.5"/>
<circle cx="579.5" cy="323.8" r="2.40" fill="#23418f" stroke="#1d3678" stroke-width="0.5"/>
<circle cx="586.2" cy="324.5" r="2.40" fill="#23418f" stroke="#1d3678" stroke-width="0.5"/>
<circle cx="593.8" cy="325.0" r="2.40" fill="#8fb6f8" stroke="#4a7fd8" stroke-width="0.6"/>
<circle cx="573.8" cy="327.5" r="2.40" fill="#23418f" stroke="#1d3678" stroke-width="0.5"/>
<circle cx="578.0" cy="332.0" r="2.40" fill="#fff" stroke="#8c8c8c" stroke-width="0.5"/>
<circle cx="584.5" cy="333.0" r="2.40" fill="#fff" stroke="#8c8c8c" stroke-width="0.5"/>
<circle cx="590.8" cy="330.5" r="2.40" fill="#fff" stroke="#8c8c8c" stroke-width="0.5"/>
<circle cx="603.8" cy="284.0" r="2.40" fill="#fff" stroke="#8c8c8c" stroke-width="0.5"/>
<circle cx="610.0" cy="283.5" r="2.40" fill="#fff" stroke="#8c8c8c" stroke-width="0.5"/>
<circle cx="603.8" cy="290.2" r="2.40" fill="#fff" stroke="#8c8c8c" stroke-width="0.5"/>
<circle cx="609.5" cy="290.2" r="2.40" fill="#23418f" stroke="#1d3678" stroke-width="0.5"/>
<circle cx="598.0" cy="265.2" r="2.40" fill="#23418f" stroke="#1d3678" stroke-width="0.5"/>
<circle cx="633.8" cy="259.8" r="2.40" fill="#23418f" stroke="#1d3678" stroke-width="0.5"/>
<circle cx="643.8" cy="279.0" r="2.40" fill="#8fb6f8" stroke="#4a7fd8" stroke-width="0.6"/>
<circle cx="651.2" cy="243.2" r="2.40" fill="#fff" stroke="#8c8c8c" stroke-width="0.5"/>
<circle cx="645.5" cy="246.5" r="2.40" fill="#23418f" stroke="#1d3678" stroke-width="0.5"/>
<circle cx="657.0" cy="245.2" r="2.40" fill="#23418f" stroke="#1d3678" stroke-width="0.5"/>
<circle cx="642.5" cy="252.2" r="2.40" fill="#8fb6f8" stroke="#4a7fd8" stroke-width="0.6"/>
<circle cx="654.2" cy="251.5" r="2.40" fill="#8fb6f8" stroke="#4a7fd8" stroke-width="0.6"/>
<circle cx="660.8" cy="251.0" r="2.40" fill="#23418f" stroke="#1d3678" stroke-width="0.5"/>
<circle cx="648.8" cy="255.2" r="2.40" fill="#23418f" stroke="#1d3678" stroke-width="0.5"/>
<circle cx="643.2" cy="257.8" r="2.40" fill="#8fb6f8" stroke="#4a7fd8" stroke-width="0.6"/>
<circle cx="660.0" cy="257.8" r="2.40" fill="#23418f" stroke="#1d3678" stroke-width="0.5"/>
<circle cx="648.2" cy="262.2" r="2.40" fill="#8fb6f8" stroke="#4a7fd8" stroke-width="0.6"/>
<circle cx="654.5" cy="262.0" r="2.40" fill="#23418f" stroke="#1d3678" stroke-width="0.5"/>
<circle cx="661.2" cy="270.8" r="2.40" fill="#fff" stroke="#8c8c8c" stroke-width="0.5"/>
<circle cx="657.5" cy="276.5" r="2.40" fill="#23418f" stroke="#1d3678" stroke-width="0.5"/>
<circle cx="663.8" cy="277.0" r="2.40" fill="#fff" stroke="#8c8c8c" stroke-width="0.5"/>
<circle cx="690.5" cy="215.2" r="2.40" fill="#23418f" stroke="#1d3678" stroke-width="0.5"/>
<circle cx="696.8" cy="215.2" r="2.40" fill="#8fb6f8" stroke="#4a7fd8" stroke-width="0.6"/>
<circle cx="694.0" cy="221.0" r="2.40" fill="#fff" stroke="#8c8c8c" stroke-width="0.5"/>
<circle cx="673.8" cy="309.0" r="2.40" fill="#23418f" stroke="#1d3678" stroke-width="0.5"/>
<circle cx="679.0" cy="313.2" r="2.40" fill="#23418f" stroke="#1d3678" stroke-width="0.5"/>
<circle cx="699.2" cy="318.5" r="2.40" fill="#fff" stroke="#8c8c8c" stroke-width="0.5"/>
<circle cx="693.0" cy="324.5" r="2.40" fill="#8fb6f8" stroke="#4a7fd8" stroke-width="0.6"/>
<circle cx="699.2" cy="325.2" r="2.40" fill="#fff" stroke="#8c8c8c" stroke-width="0.5"/>
<circle cx="705.5" cy="324.0" r="2.40" fill="#fff" stroke="#8c8c8c" stroke-width="0.5"/>
<circle cx="695.5" cy="331.0" r="2.40" fill="#23418f" stroke="#1d3678" stroke-width="0.5"/>
<circle cx="702.5" cy="331.0" r="2.40" fill="#8fb6f8" stroke="#4a7fd8" stroke-width="0.6"/>
<circle cx="894.2" cy="158.0" r="2.40" fill="#23418f" stroke="#1d3678" stroke-width="0.5"/>
<circle cx="859.2" cy="193.5" r="2.40" fill="#fff" stroke="#8c8c8c" stroke-width="0.5"/>
<circle cx="600.5" cy="96.1" r="2.40" fill="#fff" stroke="#8c8c8c" stroke-width="0.5"/>
<circle cx="608.2" cy="97.4" r="2.40" fill="#fff" stroke="#8c8c8c" stroke-width="0.5"/>
<circle cx="593.7" cy="98.1" r="2.40" fill="#fff" stroke="#8c8c8c" stroke-width="0.5"/>
<circle cx="602.4" cy="101.5" r="2.40" fill="#8fb6f8" stroke="#4a7fd8" stroke-width="0.6"/>
<circle cx="610.7" cy="102.9" r="2.40" fill="#8fb6f8" stroke="#4a7fd8" stroke-width="0.6"/>
<circle cx="593.5" cy="103.9" r="2.40" fill="#fff" stroke="#8c8c8c" stroke-width="0.5"/>
<circle cx="587.4" cy="105.6" r="2.40" fill="#fff" stroke="#8c8c8c" stroke-width="0.5"/>
<circle cx="598.8" cy="107.1" r="2.40" fill="#23418f" stroke="#1d3678" stroke-width="0.5"/>
<circle cx="605.1" cy="107.3" r="2.40" fill="#23418f" stroke="#1d3678" stroke-width="0.5"/>
<circle cx="615.5" cy="108.2" r="2.40" fill="#fff" stroke="#8c8c8c" stroke-width="0.5"/>
<circle cx="592.7" cy="110.7" r="2.40" fill="#8fb6f8" stroke="#4a7fd8" stroke-width="0.6"/>
<circle cx="610.0" cy="110.9" r="2.40" fill="#8fb6f8" stroke="#4a7fd8" stroke-width="0.6"/>
<circle cx="586.5" cy="112.6" r="2.40" fill="#fff" stroke="#8c8c8c" stroke-width="0.5"/>
<circle cx="600.8" cy="113.4" r="2.40" fill="#23418f" stroke="#1d3678" stroke-width="0.5"/>
<circle cx="615.5" cy="115.5" r="2.40" fill="#fff" stroke="#8c8c8c" stroke-width="0.5"/>
<circle cx="595.4" cy="116.5" r="2.40" fill="#23418f" stroke="#1d3678" stroke-width="0.5"/>
<circle cx="607.1" cy="116.8" r="2.40" fill="#8fb6f8" stroke="#4a7fd8" stroke-width="0.6"/>
<circle cx="588.4" cy="118.9" r="2.40" fill="#fff" stroke="#8c8c8c" stroke-width="0.5"/>
<circle cx="601.5" cy="119.8" r="2.40" fill="#8fb6f8" stroke="#4a7fd8" stroke-width="0.6"/>
<circle cx="611.6" cy="121.6" r="2.40" fill="#fff" stroke="#8c8c8c" stroke-width="0.5"/>
<circle cx="593.2" cy="122.8" r="2.40" fill="#8fb6f8" stroke="#4a7fd8" stroke-width="0.6"/>
<circle cx="606.3" cy="124.5" r="2.40" fill="#fff" stroke="#8c8c8c" stroke-width="0.5"/>
<circle cx="599.5" cy="125.2" r="2.40" fill="#8fb6f8" stroke="#4a7fd8" stroke-width="0.6"/>
<circle cx="606.6" cy="137.6" r="2.40" fill="#8fb6f8" stroke="#4a7fd8" stroke-width="0.6"/>
<circle cx="600.8" cy="139.5" r="2.40" fill="#fff" stroke="#8c8c8c" stroke-width="0.5"/>
<circle cx="612.9" cy="138.8" r="2.40" fill="#fff" stroke="#8c8c8c" stroke-width="0.5"/>
<circle cx="618.4" cy="141.7" r="2.40" fill="#fff" stroke="#8c8c8c" stroke-width="0.5"/>
<circle cx="596.1" cy="143.9" r="2.40" fill="#fff" stroke="#8c8c8c" stroke-width="0.5"/>
<circle cx="609.2" cy="145.3" r="2.40" fill="#23418f" stroke="#1d3678" stroke-width="0.5"/>
<circle cx="622.0" cy="146.8" r="2.40" fill="#fff" stroke="#8c8c8c" stroke-width="0.5"/>
<circle cx="602.9" cy="148.5" r="2.40" fill="#23418f" stroke="#1d3678" stroke-width="0.5"/>
<circle cx="614.5" cy="148.7" r="2.40" fill="#8fb6f8" stroke="#4a7fd8" stroke-width="0.6"/>
<circle cx="594.2" cy="149.7" r="2.40" fill="#8fb6f8" stroke="#4a7fd8" stroke-width="0.6"/>
<circle cx="608.4" cy="151.6" r="2.40" fill="#23418f" stroke="#1d3678" stroke-width="0.5"/>
<circle cx="622.3" cy="153.1" r="2.40" fill="#fff" stroke="#8c8c8c" stroke-width="0.5"/>
<circle cx="614.3" cy="155.0" r="2.40" fill="#8fb6f8" stroke="#4a7fd8" stroke-width="0.6"/>
<circle cx="602.7" cy="155.0" r="2.40" fill="#23418f" stroke="#1d3678" stroke-width="0.5"/>
<circle cx="594.2" cy="156.2" r="2.40" fill="#fff" stroke="#8c8c8c" stroke-width="0.5"/>
<circle cx="608.4" cy="158.2" r="2.40" fill="#23418f" stroke="#1d3678" stroke-width="0.5"/>
<circle cx="620.3" cy="158.9" r="2.40" fill="#fff" stroke="#8c8c8c" stroke-width="0.5"/>
<circle cx="598.1" cy="161.3" r="2.40" fill="#8fb6f8" stroke="#4a7fd8" stroke-width="0.6"/>
<circle cx="616.3" cy="163.5" r="2.40" fill="#8fb6f8" stroke="#4a7fd8" stroke-width="0.6"/>
<circle cx="603.6" cy="165.0" r="2.40" fill="#fff" stroke="#8c8c8c" stroke-width="0.5"/>
<circle cx="610.0" cy="165.7" r="2.40" fill="#8fb6f8" stroke="#4a7fd8" stroke-width="0.6"/>
<circle cx="584.3" cy="134.7" r="2.40" fill="#fff" stroke="#8c8c8c" stroke-width="0.5"/>
<circle cx="580.9" cy="140.0" r="2.40" fill="#fff" stroke="#8c8c8c" stroke-width="0.5"/>
<circle cx="586.7" cy="140.5" r="2.40" fill="#23418f" stroke="#1d3678" stroke-width="0.5"/>
<circle cx="588.8" cy="193.8" r="2.40" fill="#8fb6f8" stroke="#4a7fd8" stroke-width="0.6"/>
<circle cx="595.1" cy="192.5" r="2.40" fill="#fff" stroke="#8c8c8c" stroke-width="0.5"/>
<circle cx="601.9" cy="193.2" r="2.40" fill="#fff" stroke="#8c8c8c" stroke-width="0.5"/>
<circle cx="607.9" cy="196.2" r="2.40" fill="#fff" stroke="#8c8c8c" stroke-width="0.5"/>
<circle cx="612.8" cy="201.4" r="2.40" fill="#fff" stroke="#8c8c8c" stroke-width="0.5"/>
<circle cx="614.9" cy="207.8" r="2.40" fill="#fff" stroke="#8c8c8c" stroke-width="0.5"/>
<circle cx="614.9" cy="214.3" r="2.40" fill="#fff" stroke="#8c8c8c" stroke-width="0.5"/>
<circle cx="613.2" cy="220.6" r="2.40" fill="#fff" stroke="#8c8c8c" stroke-width="0.5"/>
<circle cx="609.1" cy="225.6" r="2.40" fill="#fff" stroke="#8c8c8c" stroke-width="0.5"/>
<circle cx="604.3" cy="228.8" r="2.40" fill="#fff" stroke="#8c8c8c" stroke-width="0.5"/>
<circle cx="598.0" cy="230.6" r="2.40" fill="#fff" stroke="#8c8c8c" stroke-width="0.5"/>
<circle cx="591.7" cy="229.3" r="2.40" fill="#fff" stroke="#8c8c8c" stroke-width="0.5"/>
<circle cx="585.1" cy="226.6" r="2.40" fill="#fff" stroke="#8c8c8c" stroke-width="0.5"/>
<circle cx="580.3" cy="222.0" r="2.40" fill="#fff" stroke="#8c8c8c" stroke-width="0.5"/>
<circle cx="578.1" cy="215.8" r="2.40" fill="#fff" stroke="#8c8c8c" stroke-width="0.5"/>
<circle cx="577.9" cy="209.3" r="2.40" fill="#fff" stroke="#8c8c8c" stroke-width="0.5"/>
<circle cx="579.6" cy="203.0" r="2.40" fill="#fff" stroke="#8c8c8c" stroke-width="0.5"/>
<circle cx="583.0" cy="196.9" r="2.40" fill="#fff" stroke="#8c8c8c" stroke-width="0.5"/>
<circle cx="589.0" cy="200.9" r="2.40" fill="#8fb6f8" stroke="#4a7fd8" stroke-width="0.6"/>
<circle cx="595.4" cy="199.5" r="2.40" fill="#23418f" stroke="#1d3678" stroke-width="0.5"/>
<circle cx="602.5" cy="200.3" r="2.40" fill="#23418f" stroke="#1d3678" stroke-width="0.5"/>
<circle cx="585.4" cy="206.8" r="2.40" fill="#23418f" stroke="#1d3678" stroke-width="0.5"/>
<circle cx="592.5" cy="207.5" r="2.40" fill="#23418f" stroke="#1d3678" stroke-width="0.5"/>
<circle cx="599.4" cy="206.8" r="2.40" fill="#23418f" stroke="#1d3678" stroke-width="0.5"/>
<circle cx="607.4" cy="205.9" r="2.40" fill="#23418f" stroke="#1d3678" stroke-width="0.5"/>
<circle cx="585.6" cy="214.1" r="2.40" fill="#23418f" stroke="#1d3678" stroke-width="0.5"/>
<circle cx="593.6" cy="214.6" r="2.40" fill="#23418f" stroke="#1d3678" stroke-width="0.5"/>
<circle cx="600.2" cy="213.5" r="2.40" fill="#23418f" stroke="#1d3678" stroke-width="0.5"/>
<circle cx="607.5" cy="213.8" r="2.40" fill="#23418f" stroke="#1d3678" stroke-width="0.5"/>
<circle cx="589.3" cy="220.9" r="2.40" fill="#23418f" stroke="#1d3678" stroke-width="0.5"/>
<circle cx="596.5" cy="222.0" r="2.40" fill="#23418f" stroke="#1d3678" stroke-width="0.5"/>
<circle cx="603.3" cy="220.4" r="2.40" fill="#23418f" stroke="#1d3678" stroke-width="0.5"/>
<circle cx="486.8" cy="368.0" r="2.40" fill="#fff" stroke="#8c8c8c" stroke-width="0.5"/>
<circle cx="493.2" cy="369.5" r="2.40" fill="#fff" stroke="#8c8c8c" stroke-width="0.5"/>
<circle cx="481.8" cy="373.8" r="2.40" fill="#fff" stroke="#8c8c8c" stroke-width="0.5"/>
<circle cx="488.8" cy="374.5" r="2.40" fill="#23418f" stroke="#1d3678" stroke-width="0.5"/>
<circle cx="495.0" cy="375.8" r="2.40" fill="#8fb6f8" stroke="#4a7fd8" stroke-width="0.6"/>
<circle cx="484.5" cy="380.0" r="2.40" fill="#fff" stroke="#8c8c8c" stroke-width="0.5"/>
<circle cx="490.8" cy="381.2" r="2.40" fill="#fff" stroke="#8c8c8c" stroke-width="0.5"/>
<circle cx="528.2" cy="372.0" r="2.40" fill="#fff" stroke="#8c8c8c" stroke-width="0.5"/>
<circle cx="534.2" cy="372.0" r="2.40" fill="#23418f" stroke="#1d3678" stroke-width="0.5"/>
<circle cx="524.5" cy="377.0" r="2.40" fill="#fff" stroke="#8c8c8c" stroke-width="0.5"/>
<circle cx="530.5" cy="378.2" r="2.40" fill="#8fb6f8" stroke="#4a7fd8" stroke-width="0.6"/>
<circle cx="537.5" cy="377.5" r="2.40" fill="#23418f" stroke="#1d3678" stroke-width="0.5"/>
<circle cx="525.8" cy="382.5" r="2.40" fill="#fff" stroke="#8c8c8c" stroke-width="0.5"/>
<circle cx="536.2" cy="383.2" r="2.40" fill="#23418f" stroke="#1d3678" stroke-width="0.5"/>
<circle cx="530.5" cy="385.8" r="2.40" fill="#8fb6f8" stroke="#4a7fd8" stroke-width="0.6"/>
<circle cx="519.5" cy="351.2" r="2.40" fill="#fff" stroke="#8c8c8c" stroke-width="0.5"/>
<circle cx="526.2" cy="353.0" r="2.40" fill="#fff" stroke="#8c8c8c" stroke-width="0.5"/>
<circle cx="515.0" cy="356.2" r="2.40" fill="#fff" stroke="#8c8c8c" stroke-width="0.5"/>
<circle cx="521.8" cy="357.5" r="2.40" fill="#23418f" stroke="#1d3678" stroke-width="0.5"/>
<circle cx="528.0" cy="358.2" r="2.40" fill="#8fb6f8" stroke="#4a7fd8" stroke-width="0.6"/>
<circle cx="517.0" cy="362.5" r="2.40" fill="#8fb6f8" stroke="#4a7fd8" stroke-width="0.6"/>
<circle cx="523.8" cy="364.5" r="2.40" fill="#fff" stroke="#8c8c8c" stroke-width="0.5"/>
<circle cx="498.8" cy="351.2" r="2.40" fill="#fff" stroke="#8c8c8c" stroke-width="0.5"/>
<circle cx="505.0" cy="351.2" r="2.40" fill="#fff" stroke="#8c8c8c" stroke-width="0.5"/>
<circle cx="498.8" cy="357.5" r="2.40" fill="#fff" stroke="#8c8c8c" stroke-width="0.5"/>
<circle cx="505.0" cy="357.5" r="2.40" fill="#fff" stroke="#8c8c8c" stroke-width="0.5"/>
<circle cx="458.1" cy="313.1" r="2.40" fill="#8fb6f8" stroke="#4a7fd8" stroke-width="0.6"/>
<circle cx="464.0" cy="310.5" r="2.40" fill="#8fb6f8" stroke="#4a7fd8" stroke-width="0.6"/>
<circle cx="470.0" cy="311.4" r="2.40" fill="#8fb6f8" stroke="#4a7fd8" stroke-width="0.6"/>
<circle cx="475.6" cy="315.0" r="2.40" fill="#fff" stroke="#8c8c8c" stroke-width="0.5"/>
<circle cx="478.0" cy="320.3" r="2.40" fill="#fff" stroke="#8c8c8c" stroke-width="0.5"/>
<circle cx="477.8" cy="327.1" r="2.40" fill="#fff" stroke="#8c8c8c" stroke-width="0.5"/>
<circle cx="473.9" cy="333.2" r="2.40" fill="#8fb6f8" stroke="#4a7fd8" stroke-width="0.6"/>
<circle cx="468.3" cy="335.6" r="2.40" fill="#8fb6f8" stroke="#4a7fd8" stroke-width="0.6"/>
<circle cx="462.1" cy="335.0" r="2.40" fill="#8fb6f8" stroke="#4a7fd8" stroke-width="0.6"/>
<circle cx="456.3" cy="331.8" r="2.40" fill="#8fb6f8" stroke="#4a7fd8" stroke-width="0.6"/>
<circle cx="453.4" cy="325.4" r="2.40" fill="#8fb6f8" stroke="#4a7fd8" stroke-width="0.6"/>
<circle cx="454.0" cy="318.4" r="2.40" fill="#8fb6f8" stroke="#4a7fd8" stroke-width="0.6"/>
<circle cx="462.6" cy="318.7" r="2.40" fill="#23418f" stroke="#1d3678" stroke-width="0.5"/>
<circle cx="469.0" cy="318.7" r="2.40" fill="#fff" stroke="#8c8c8c" stroke-width="0.5"/>
<circle cx="460.5" cy="325.4" r="2.40" fill="#23418f" stroke="#1d3678" stroke-width="0.5"/>
<circle cx="471.3" cy="325.0" r="2.40" fill="#fff" stroke="#8c8c8c" stroke-width="0.5"/>
<circle cx="466.1" cy="328.8" r="2.40" fill="#fff" stroke="#8c8c8c" stroke-width="0.5"/>
<circle cx="493.2" cy="318.7" r="2.40" fill="#fff" stroke="#8c8c8c" stroke-width="0.5"/>
<circle cx="488.2" cy="322.9" r="2.40" fill="#fff" stroke="#8c8c8c" stroke-width="0.5"/>
<circle cx="498.1" cy="322.9" r="2.40" fill="#8fb6f8" stroke="#4a7fd8" stroke-width="0.6"/>
<circle cx="489.9" cy="328.4" r="2.40" fill="#23418f" stroke="#1d3678" stroke-width="0.5"/>
<circle cx="496.1" cy="328.4" r="2.40" fill="#23418f" stroke="#1d3678" stroke-width="0.5"/>
<circle cx="518.6" cy="321.1" r="2.40" fill="#23418f" stroke="#1d3678" stroke-width="0.5"/>
<circle cx="512.6" cy="323.2" r="2.40" fill="#8fb6f8" stroke="#4a7fd8" stroke-width="0.6"/>
<circle cx="525.0" cy="325.0" r="2.40" fill="#fff" stroke="#8c8c8c" stroke-width="0.5"/>
<circle cx="508.9" cy="327.8" r="2.40" fill="#fff" stroke="#8c8c8c" stroke-width="0.5"/>
<circle cx="518.9" cy="327.4" r="2.40" fill="#23418f" stroke="#1d3678" stroke-width="0.5"/>
<circle cx="514.3" cy="330.5" r="2.40" fill="#23418f" stroke="#1d3678" stroke-width="0.5"/>
<circle cx="526.6" cy="331.2" r="2.40" fill="#fff" stroke="#8c8c8c" stroke-width="0.5"/>
<circle cx="508.2" cy="333.9" r="2.40" fill="#8fb6f8" stroke="#4a7fd8" stroke-width="0.6"/>
<circle cx="519.6" cy="333.4" r="2.40" fill="#23418f" stroke="#1d3678" stroke-width="0.5"/>
<circle cx="525.2" cy="337.0" r="2.40" fill="#fff" stroke="#8c8c8c" stroke-width="0.5"/>
<circle cx="512.4" cy="338.7" r="2.40" fill="#8fb6f8" stroke="#4a7fd8" stroke-width="0.6"/>
<circle cx="519.1" cy="339.7" r="2.40" fill="#fff" stroke="#8c8c8c" stroke-width="0.5"/>
<circle cx="481.9" cy="339.7" r="2.40" fill="#8fb6f8" stroke="#4a7fd8" stroke-width="0.6"/>
<circle cx="478.5" cy="344.7" r="2.40" fill="#23418f" stroke="#1d3678" stroke-width="0.5"/>
<circle cx="484.5" cy="345.3" r="2.40" fill="#8fb6f8" stroke="#4a7fd8" stroke-width="0.6"/>
<circle cx="460.1" cy="354.4" r="2.40" fill="#fff" stroke="#8c8c8c" stroke-width="0.5"/>
<circle cx="464.0" cy="358.8" r="2.40" fill="#23418f" stroke="#1d3678" stroke-width="0.5"/>
<circle cx="457.0" cy="344.0" r="2.40" fill="#23418f" stroke="#1d3678" stroke-width="0.5"/>
<circle cx="463.1" cy="343.1" r="2.40" fill="#fff" stroke="#8c8c8c" stroke-width="0.5"/>
<circle cx="452.1" cy="358.6" r="2.40" fill="#fff" stroke="#8c8c8c" stroke-width="0.5"/>
<circle cx="440.3" cy="373.3" r="2.40" fill="#8fb6f8" stroke="#4a7fd8" stroke-width="0.6"/>
<circle cx="437.9" cy="378.9" r="2.40" fill="#23418f" stroke="#1d3678" stroke-width="0.5"/>
<circle cx="427.4" cy="341.4" r="2.40" fill="#fff" stroke="#8c8c8c" stroke-width="0.5"/>
<circle cx="420.9" cy="347.2" r="2.40" fill="#8fb6f8" stroke="#4a7fd8" stroke-width="0.6"/>
<circle cx="427.4" cy="347.9" r="2.40" fill="#fff" stroke="#8c8c8c" stroke-width="0.5"/>
<circle cx="433.7" cy="346.7" r="2.40" fill="#fff" stroke="#8c8c8c" stroke-width="0.5"/>
<circle cx="423.4" cy="353.7" r="2.40" fill="#23418f" stroke="#1d3678" stroke-width="0.5"/>
<circle cx="431.1" cy="353.7" r="2.40" fill="#fff" stroke="#8c8c8c" stroke-width="0.5"/>
<circle cx="443.2" cy="345.3" r="2.40" fill="#8fb6f8" stroke="#4a7fd8" stroke-width="0.6"/>
<circle cx="449.4" cy="345.0" r="2.40" fill="#fff" stroke="#8c8c8c" stroke-width="0.5"/>
<circle cx="443.2" cy="351.3" r="2.40" fill="#fff" stroke="#8c8c8c" stroke-width="0.5"/>
<circle cx="449.2" cy="351.3" r="2.40" fill="#fff" stroke="#8c8c8c" stroke-width="0.5"/>
<circle cx="408.1" cy="337.7" r="2.40" fill="#fff" stroke="#8c8c8c" stroke-width="0.5"/>
<circle cx="414.4" cy="338.0" r="2.40" fill="#23418f" stroke="#1d3678" stroke-width="0.5"/>
<circle cx="410.8" cy="343.6" r="2.40" fill="#23418f" stroke="#1d3678" stroke-width="0.5"/>
<circle cx="338.6" cy="267.6" r="2.40" fill="#fff" stroke="#8c8c8c" stroke-width="0.5"/>
<circle cx="342.2" cy="271.7" r="2.40" fill="#23418f" stroke="#1d3678" stroke-width="0.5"/>
<circle cx="360.3" cy="264.1" r="2.40" fill="#fff" stroke="#8c8c8c" stroke-width="0.5"/>
<circle cx="366.4" cy="265.7" r="2.40" fill="#fff" stroke="#8c8c8c" stroke-width="0.5"/>
<circle cx="354.5" cy="267.8" r="2.40" fill="#fff" stroke="#8c8c8c" stroke-width="0.5"/>
<circle cx="370.8" cy="269.9" r="2.40" fill="#fff" stroke="#8c8c8c" stroke-width="0.5"/>
<circle cx="359.4" cy="270.7" r="2.40" fill="#fff" stroke="#8c8c8c" stroke-width="0.5"/>
<circle cx="365.4" cy="273.1" r="2.40" fill="#8fb6f8" stroke="#4a7fd8" stroke-width="0.6"/>
<circle cx="352.9" cy="274.1" r="2.40" fill="#fff" stroke="#8c8c8c" stroke-width="0.5"/>
<circle cx="359.9" cy="276.5" r="2.40" fill="#fff" stroke="#8c8c8c" stroke-width="0.5"/>
<circle cx="370.7" cy="276.7" r="2.40" fill="#fff" stroke="#8c8c8c" stroke-width="0.5"/>
<circle cx="354.7" cy="279.4" r="2.40" fill="#fff" stroke="#8c8c8c" stroke-width="0.5"/>
<circle cx="366.1" cy="281.8" r="2.40" fill="#fff" stroke="#8c8c8c" stroke-width="0.5"/>
<circle cx="359.9" cy="282.8" r="2.40" fill="#fff" stroke="#8c8c8c" stroke-width="0.5"/>
<circle cx="333.5" cy="287.4" r="2.40" fill="#fff" stroke="#8c8c8c" stroke-width="0.5"/>
<circle cx="339.3" cy="285.2" r="2.40" fill="#fff" stroke="#8c8c8c" stroke-width="0.5"/>
<circle cx="345.6" cy="285.5" r="2.40" fill="#fff" stroke="#8c8c8c" stroke-width="0.5"/>
<circle cx="350.9" cy="289.3" r="2.40" fill="#fff" stroke="#8c8c8c" stroke-width="0.5"/>
<circle cx="353.4" cy="294.7" r="2.40" fill="#fff" stroke="#8c8c8c" stroke-width="0.5"/>
<circle cx="353.1" cy="301.0" r="2.40" fill="#fff" stroke="#8c8c8c" stroke-width="0.5"/>
<circle cx="349.2" cy="307.3" r="2.40" fill="#fff" stroke="#8c8c8c" stroke-width="0.5"/>
<circle cx="343.4" cy="309.9" r="2.40" fill="#fff" stroke="#8c8c8c" stroke-width="0.5"/>
<circle cx="337.4" cy="309.4" r="2.40" fill="#fff" stroke="#8c8c8c" stroke-width="0.5"/>
<circle cx="331.8" cy="306.0" r="2.40" fill="#fff" stroke="#8c8c8c" stroke-width="0.5"/>
<circle cx="328.6" cy="299.8" r="2.40" fill="#fff" stroke="#8c8c8c" stroke-width="0.5"/>
<circle cx="329.4" cy="292.8" r="2.40" fill="#fff" stroke="#8c8c8c" stroke-width="0.5"/>
<circle cx="338.1" cy="293.2" r="2.40" fill="#23418f" stroke="#1d3678" stroke-width="0.5"/>
<circle cx="344.4" cy="293.0" r="2.40" fill="#fff" stroke="#8c8c8c" stroke-width="0.5"/>
<circle cx="335.9" cy="299.3" r="2.40" fill="#23418f" stroke="#1d3678" stroke-width="0.5"/>
<circle cx="346.6" cy="299.3" r="2.40" fill="#fff" stroke="#8c8c8c" stroke-width="0.5"/>
<circle cx="341.2" cy="302.7" r="2.40" fill="#23418f" stroke="#1d3678" stroke-width="0.5"/>
<circle cx="363.2" cy="293.0" r="2.40" fill="#8fb6f8" stroke="#4a7fd8" stroke-width="0.6"/>
<circle cx="369.3" cy="292.8" r="2.40" fill="#8fb6f8" stroke="#4a7fd8" stroke-width="0.6"/>
<circle cx="363.4" cy="298.8" r="2.40" fill="#fff" stroke="#8c8c8c" stroke-width="0.5"/>
<circle cx="369.2" cy="298.8" r="2.40" fill="#fff" stroke="#8c8c8c" stroke-width="0.5"/>
<circle cx="383.6" cy="275.8" r="2.40" fill="#23418f" stroke="#1d3678" stroke-width="0.5"/>
<circle cx="389.7" cy="275.8" r="2.40" fill="#fff" stroke="#8c8c8c" stroke-width="0.5"/>
<circle cx="383.8" cy="281.8" r="2.40" fill="#fff" stroke="#8c8c8c" stroke-width="0.5"/>
<circle cx="389.7" cy="281.8" r="2.40" fill="#fff" stroke="#8c8c8c" stroke-width="0.5"/>
<circle cx="375.8" cy="282.8" r="2.40" fill="#fff" stroke="#8c8c8c" stroke-width="0.5"/>
<circle cx="375.8" cy="288.9" r="2.40" fill="#8fb6f8" stroke="#4a7fd8" stroke-width="0.6"/>
<circle cx="385.7" cy="291.0" r="2.40" fill="#fff" stroke="#8c8c8c" stroke-width="0.5"/>
<circle cx="379.5" cy="296.7" r="2.40" fill="#8fb6f8" stroke="#4a7fd8" stroke-width="0.6"/>
<circle cx="386.0" cy="297.6" r="2.40" fill="#fff" stroke="#8c8c8c" stroke-width="0.5"/>
<circle cx="392.3" cy="296.4" r="2.40" fill="#fff" stroke="#8c8c8c" stroke-width="0.5"/>
<circle cx="382.1" cy="303.6" r="2.40" fill="#fff" stroke="#8c8c8c" stroke-width="0.5"/>
<circle cx="389.4" cy="303.6" r="2.40" fill="#fff" stroke="#8c8c8c" stroke-width="0.5"/>
<circle cx="322.6" cy="313.6" r="2.40" fill="#fff" stroke="#8c8c8c" stroke-width="0.5"/>
<circle cx="317.7" cy="317.9" r="2.40" fill="#fff" stroke="#8c8c8c" stroke-width="0.5"/>
<circle cx="327.7" cy="317.9" r="2.40" fill="#fff" stroke="#8c8c8c" stroke-width="0.5"/>
<circle cx="319.5" cy="323.5" r="2.40" fill="#23418f" stroke="#1d3678" stroke-width="0.5"/>
<circle cx="325.5" cy="323.5" r="2.40" fill="#23418f" stroke="#1d3678" stroke-width="0.5"/>
<circle cx="342.9" cy="318.4" r="2.40" fill="#fff" stroke="#8c8c8c" stroke-width="0.5"/>
<circle cx="349.2" cy="318.2" r="2.40" fill="#fff" stroke="#8c8c8c" stroke-width="0.5"/>
<circle cx="354.0" cy="321.5" r="2.40" fill="#fff" stroke="#8c8c8c" stroke-width="0.5"/>
<circle cx="337.4" cy="322.1" r="2.40" fill="#8fb6f8" stroke="#4a7fd8" stroke-width="0.6"/>
<circle cx="346.8" cy="324.2" r="2.40" fill="#23418f" stroke="#1d3678" stroke-width="0.5"/>
<circle cx="356.5" cy="327.1" r="2.40" fill="#fff" stroke="#8c8c8c" stroke-width="0.5"/>
<circle cx="335.4" cy="327.6" r="2.40" fill="#fff" stroke="#8c8c8c" stroke-width="0.5"/>
<circle cx="341.9" cy="327.9" r="2.40" fill="#23418f" stroke="#1d3678" stroke-width="0.5"/>
<circle cx="350.2" cy="329.3" r="2.40" fill="#23418f" stroke="#1d3678" stroke-width="0.5"/>
<circle cx="355.3" cy="332.9" r="2.40" fill="#8fb6f8" stroke="#4a7fd8" stroke-width="0.6"/>
<circle cx="336.9" cy="333.4" r="2.40" fill="#23418f" stroke="#1d3678" stroke-width="0.5"/>
<circle cx="344.8" cy="332.7" r="2.40" fill="#23418f" stroke="#1d3678" stroke-width="0.5"/>
<circle cx="341.0" cy="337.3" r="2.40" fill="#fff" stroke="#8c8c8c" stroke-width="0.5"/>
<circle cx="346.6" cy="339.2" r="2.40" fill="#fff" stroke="#8c8c8c" stroke-width="0.5"/>
<circle cx="352.1" cy="337.3" r="2.40" fill="#fff" stroke="#8c8c8c" stroke-width="0.5"/>
<circle cx="370.5" cy="308.2" r="2.40" fill="#fff" stroke="#8c8c8c" stroke-width="0.5"/>
<circle cx="376.3" cy="309.7" r="2.40" fill="#fff" stroke="#8c8c8c" stroke-width="0.5"/>
<circle cx="364.7" cy="310.9" r="2.40" fill="#23418f" stroke="#1d3678" stroke-width="0.5"/>
<circle cx="379.2" cy="315.0" r="2.40" fill="#fff" stroke="#8c8c8c" stroke-width="0.5"/>
<circle cx="371.5" cy="316.5" r="2.40" fill="#fff" stroke="#8c8c8c" stroke-width="0.5"/>
<circle cx="363.2" cy="317.4" r="2.40" fill="#23418f" stroke="#1d3678" stroke-width="0.5"/>
<circle cx="378.2" cy="321.5" r="2.40" fill="#fff" stroke="#8c8c8c" stroke-width="0.5"/>
<circle cx="366.4" cy="323.0" r="2.40" fill="#fff" stroke="#8c8c8c" stroke-width="0.5"/>
<circle cx="372.7" cy="324.7" r="2.40" fill="#fff" stroke="#8c8c8c" stroke-width="0.5"/>
<circle cx="322.1" cy="345.3" r="2.40" fill="#fff" stroke="#8c8c8c" stroke-width="0.5"/>
<circle cx="328.9" cy="346.3" r="2.40" fill="#fff" stroke="#8c8c8c" stroke-width="0.5"/>
<circle cx="317.6" cy="350.5" r="2.40" fill="#fff" stroke="#8c8c8c" stroke-width="0.5"/>
<circle cx="324.5" cy="351.3" r="2.40" fill="#8fb6f8" stroke="#4a7fd8" stroke-width="0.6"/>
<circle cx="330.6" cy="352.8" r="2.40" fill="#8fb6f8" stroke="#4a7fd8" stroke-width="0.6"/>
<circle cx="320.5" cy="356.6" r="2.40" fill="#8fb6f8" stroke="#4a7fd8" stroke-width="0.6"/>
<circle cx="326.5" cy="357.9" r="2.40" fill="#fff" stroke="#8c8c8c" stroke-width="0.5"/>
<circle cx="377.8" cy="332.9" r="2.40" fill="#8fb6f8" stroke="#4a7fd8" stroke-width="0.6"/>
<circle cx="383.8" cy="332.7" r="2.40" fill="#fff" stroke="#8c8c8c" stroke-width="0.5"/>
<circle cx="377.8" cy="338.7" r="2.40" fill="#fff" stroke="#8c8c8c" stroke-width="0.5"/>
<circle cx="383.8" cy="338.7" r="2.40" fill="#fff" stroke="#8c8c8c" stroke-width="0.5"/>
<circle cx="412.1" cy="255.3" r="2.40" fill="#fff" stroke="#8c8c8c" stroke-width="0.5"/>
<circle cx="417.9" cy="253.1" r="2.40" fill="#23418f" stroke="#1d3678" stroke-width="0.5"/>
<circle cx="413.6" cy="260.8" r="2.40" fill="#23418f" stroke="#1d3678" stroke-width="0.5"/>
<circle cx="419.1" cy="259.4" r="2.40" fill="#fff" stroke="#8c8c8c" stroke-width="0.5"/>
<circle cx="403.4" cy="268.8" r="2.40" fill="#23418f" stroke="#1d3678" stroke-width="0.5"/>
<circle cx="408.5" cy="272.2" r="2.40" fill="#23418f" stroke="#1d3678" stroke-width="0.5"/>
<circle cx="403.4" cy="275.3" r="2.40" fill="#fff" stroke="#8c8c8c" stroke-width="0.5"/>
<circle cx="415.7" cy="268.8" r="2.40" fill="#23418f" stroke="#1d3678" stroke-width="0.5"/>
<circle cx="400.8" cy="282.3" r="2.40" fill="#fff" stroke="#8c8c8c" stroke-width="0.5"/>
<circle cx="434.2" cy="275.5" r="2.40" fill="#fff" stroke="#8c8c8c" stroke-width="0.5"/>
<circle cx="436.5" cy="282.6" r="2.40" fill="#fff" stroke="#8c8c8c" stroke-width="0.5"/>
<circle cx="419.4" cy="275.3" r="2.40" fill="#8fb6f8" stroke="#4a7fd8" stroke-width="0.6"/>
<circle cx="426.4" cy="276.5" r="2.40" fill="#fff" stroke="#8c8c8c" stroke-width="0.5"/>
<circle cx="414.8" cy="280.7" r="2.40" fill="#fff" stroke="#8c8c8c" stroke-width="0.5"/>
<circle cx="421.8" cy="281.6" r="2.40" fill="#8fb6f8" stroke="#4a7fd8" stroke-width="0.6"/>
<circle cx="427.9" cy="282.9" r="2.40" fill="#8fb6f8" stroke="#4a7fd8" stroke-width="0.6"/>
<circle cx="417.7" cy="287.0" r="2.40" fill="#8fb6f8" stroke="#4a7fd8" stroke-width="0.6"/>
<circle cx="423.9" cy="288.2" r="2.40" fill="#fff" stroke="#8c8c8c" stroke-width="0.5"/>
<circle cx="454.2" cy="281.8" r="2.40" fill="#fff" stroke="#8c8c8c" stroke-width="0.5"/>
<circle cx="449.4" cy="286.5" r="2.40" fill="#8fb6f8" stroke="#4a7fd8" stroke-width="0.6"/>
<circle cx="455.7" cy="287.6" r="2.40" fill="#fff" stroke="#8c8c8c" stroke-width="0.5"/>
<circle cx="435.5" cy="290.8" r="2.40" fill="#8fb6f8" stroke="#4a7fd8" stroke-width="0.6"/>
<circle cx="442.6" cy="291.5" r="2.40" fill="#8fb6f8" stroke="#4a7fd8" stroke-width="0.6"/>
<circle cx="431.0" cy="296.0" r="2.40" fill="#fff" stroke="#8c8c8c" stroke-width="0.5"/>
<circle cx="438.0" cy="296.9" r="2.40" fill="#23418f" stroke="#1d3678" stroke-width="0.5"/>
<circle cx="444.2" cy="297.9" r="2.40" fill="#8fb6f8" stroke="#4a7fd8" stroke-width="0.6"/>
<circle cx="434.4" cy="302.0" r="2.40" fill="#fff" stroke="#8c8c8c" stroke-width="0.5"/>
<circle cx="440.7" cy="302.9" r="2.40" fill="#fff" stroke="#8c8c8c" stroke-width="0.5"/>
<circle cx="406.3" cy="290.3" r="2.40" fill="#23418f" stroke="#1d3678" stroke-width="0.5"/>
<circle cx="401.0" cy="295.4" r="2.40" fill="#8fb6f8" stroke="#4a7fd8" stroke-width="0.6"/>
<circle cx="406.5" cy="296.0" r="2.40" fill="#23418f" stroke="#1d3678" stroke-width="0.5"/>
<circle cx="412.3" cy="295.2" r="2.40" fill="#fff" stroke="#8c8c8c" stroke-width="0.5"/>
<circle cx="402.9" cy="301.0" r="2.40" fill="#23418f" stroke="#1d3678" stroke-width="0.5"/>
<circle cx="409.5" cy="301.0" r="2.40" fill="#23418f" stroke="#1d3678" stroke-width="0.5"/>
<circle cx="460.8" cy="295.0" r="2.40" fill="#8fb6f8" stroke="#4a7fd8" stroke-width="0.6"/>
<circle cx="466.8" cy="294.7" r="2.40" fill="#fff" stroke="#8c8c8c" stroke-width="0.5"/>
<circle cx="460.8" cy="300.8" r="2.40" fill="#fff" stroke="#8c8c8c" stroke-width="0.5"/>
<circle cx="466.8" cy="300.8" r="2.40" fill="#23418f" stroke="#1d3678" stroke-width="0.5"/>
<circle cx="399.5" cy="309.4" r="2.40" fill="#fff" stroke="#8c8c8c" stroke-width="0.5"/>
<circle cx="404.8" cy="311.1" r="2.40" fill="#fff" stroke="#8c8c8c" stroke-width="0.5"/>
<circle cx="392.6" cy="311.5" r="2.40" fill="#fff" stroke="#8c8c8c" stroke-width="0.5"/>
<circle cx="408.5" cy="315.9" r="2.40" fill="#fff" stroke="#8c8c8c" stroke-width="0.5"/>
<circle cx="398.6" cy="315.7" r="2.40" fill="#23418f" stroke="#1d3678" stroke-width="0.5"/>
<circle cx="388.6" cy="315.9" r="2.40" fill="#fff" stroke="#8c8c8c" stroke-width="0.5"/>
<circle cx="394.5" cy="320.2" r="2.40" fill="#23418f" stroke="#1d3678" stroke-width="0.5"/>
<circle cx="402.9" cy="319.8" r="2.40" fill="#23418f" stroke="#1d3678" stroke-width="0.5"/>
<circle cx="409.0" cy="321.9" r="2.40" fill="#8fb6f8" stroke="#4a7fd8" stroke-width="0.6"/>
<circle cx="388.2" cy="321.8" r="2.40" fill="#fff" stroke="#8c8c8c" stroke-width="0.5"/>
<circle cx="398.6" cy="324.4" r="2.40" fill="#23418f" stroke="#1d3678" stroke-width="0.5"/>
<circle cx="391.3" cy="327.3" r="2.40" fill="#23418f" stroke="#1d3678" stroke-width="0.5"/>
<circle cx="406.8" cy="327.3" r="2.40" fill="#fff" stroke="#8c8c8c" stroke-width="0.5"/>
<circle cx="396.1" cy="330.2" r="2.40" fill="#fff" stroke="#8c8c8c" stroke-width="0.5"/>
<circle cx="401.9" cy="330.5" r="2.40" fill="#fff" stroke="#8c8c8c" stroke-width="0.5"/>
<circle cx="421.3" cy="303.6" r="2.40" fill="#fff" stroke="#8c8c8c" stroke-width="0.5"/>
<circle cx="416.5" cy="307.7" r="2.40" fill="#fff" stroke="#8c8c8c" stroke-width="0.5"/>
<circle cx="426.1" cy="307.7" r="2.40" fill="#fff" stroke="#8c8c8c" stroke-width="0.5"/>
<circle cx="417.9" cy="313.5" r="2.40" fill="#fff" stroke="#8c8c8c" stroke-width="0.5"/>
<circle cx="424.2" cy="313.5" r="2.40" fill="#fff" stroke="#8c8c8c" stroke-width="0.5"/>
<circle cx="416.5" cy="320.2" r="2.40" fill="#23418f" stroke="#1d3678" stroke-width="0.5"/>
<circle cx="439.2" cy="312.6" r="2.40" fill="#fff" stroke="#8c8c8c" stroke-width="0.5"/>
<circle cx="434.2" cy="316.4" r="2.40" fill="#fff" stroke="#8c8c8c" stroke-width="0.5"/>
<circle cx="444.1" cy="316.6" r="2.40" fill="#fff" stroke="#8c8c8c" stroke-width="0.5"/>
<circle cx="435.5" cy="322.6" r="2.40" fill="#23418f" stroke="#1d3678" stroke-width="0.5"/>
<circle cx="441.9" cy="322.6" r="2.40" fill="#fff" stroke="#8c8c8c" stroke-width="0.5"/>
<circle cx="420.5" cy="326.3" r="2.40" fill="#8fb6f8" stroke="#4a7fd8" stroke-width="0.6"/>
<circle cx="426.6" cy="326.0" r="2.40" fill="#fff" stroke="#8c8c8c" stroke-width="0.5"/>
<circle cx="420.5" cy="332.3" r="2.40" fill="#fff" stroke="#8c8c8c" stroke-width="0.5"/>
<circle cx="426.6" cy="332.3" r="2.40" fill="#fff" stroke="#8c8c8c" stroke-width="0.5"/>
<circle cx="393.5" cy="343.7" r="2.40" fill="#fff" stroke="#8c8c8c" stroke-width="0.5"/>
<circle cx="399.5" cy="344.4" r="2.40" fill="#8fb6f8" stroke="#4a7fd8" stroke-width="0.6"/>
<circle cx="396.1" cy="350.0" r="2.40" fill="#fff" stroke="#8c8c8c" stroke-width="0.5"/>
</g>
<g id="labels">
<text x="78.7" y="158.7" font-size="8.7" text-anchor="start" font-weight="normal" fill="#2a2a2a" >Mexique</text>
<text x="29.0" y="334.8" font-size="8.7" text-anchor="start" font-weight="normal" fill="#2a2a2a" >Pérou</text>
<text x="86.8" y="325.5" font-size="8.7" text-anchor="start" font-weight="normal" fill="#2a2a2a" >Colombie</text>
<text x="345.0" y="258.0" font-size="8.7" text-anchor="start" font-weight="normal" fill="#2a2a2a" >Belgique</text>
<text x="296.5" y="298.0" font-size="8.7" text-anchor="start" font-weight="normal" fill="#2a2a2a" >France</text>
<text x="286.0" y="336.0" font-size="8.7" text-anchor="start" font-weight="normal" fill="#2a2a2a" >Espagne</text>
<text x="352.0" y="352.5" font-size="8.7" text-anchor="start" font-weight="normal" fill="#2a2a2a" >Italie</text>
<text x="369.5" y="370.0" font-size="8.7" text-anchor="start" font-weight="normal" fill="#2a2a2a" >Croatie</text>
<text x="446.5" y="373.5" font-size="8.7" text-anchor="start" font-weight="normal" fill="#2a2a2a" >Turquie</text>
<text x="455.5" y="274.2" font-size="8.7" text-anchor="start" font-weight="normal" fill="#2a2a2a" >Azerbaïdjan</text>
<text x="481.5" y="234.5" font-size="8.7" text-anchor="start" font-weight="normal" fill="#2a2a2a" >Kazakhstan</text>
<text x="506.7" y="192.4" font-size="8.7" text-anchor="start" font-weight="normal" fill="#2a2a2a" >Mongolie</text>
<text x="556.5" y="235.5" font-size="8.7" text-anchor="start" font-weight="normal" fill="#2a2a2a" >Chine</text>
<text x="622.0" y="112.5" font-size="8.7" text-anchor="start" font-weight="normal" fill="#2a2a2a" >Japon</text>
<text x="626.5" y="152.5" font-size="8.7" text-anchor="start" font-weight="normal" fill="#2a2a2a" >Corée du Sud</text>
<text x="666.5" y="254.5" font-size="8.7" text-anchor="start" font-weight="normal" fill="#2a2a2a" >Viet Nam</text>
<text x="600.2" y="324.5" font-size="8.7" text-anchor="start" font-weight="normal" fill="#2a2a2a" >Inde</text>
<text x="531.7" y="339.0" font-size="8.7" text-anchor="start" font-weight="normal" fill="#2a2a2a" >Iran</text>
<text x="545.0" y="382.0" font-size="8.7" text-anchor="start" font-weight="normal" fill="#2a2a2a" >Oman</text>
<line x1="320.6" y1="332.6" x2="331.0" y2="331.5" stroke="#555" stroke-width="0.6"/>
<line x1="366.6" y1="329.0" x2="361.8" y2="344.5" stroke="#555" stroke-width="0.6"/>
<line x1="390.3" y1="338.7" x2="381.6" y2="362.0" stroke="#555" stroke-width="0.6"/>
<line x1="471.5" y1="338.0" x2="471.5" y2="366.0" stroke="#444" stroke-width="0.7"/>
<line x1="486.5" y1="276.5" x2="486.5" y2="288.0" stroke="#444" stroke-width="0.7"/>
</g>
<g id="legend">
<line x1="54.5" y1="500.0" x2="54.5" y2="666.3" stroke="#888" stroke-width="0.8"/>
<text x="60.5" y="511.7" font-size="11.15" text-anchor="start" font-weight="bold" fill="#222" >LÉGENDE</text>
<text x="60.5" y="524.5" font-size="12.6" text-anchor="start" font-weight="normal" fill="#222" >ÉLÉMENTS DE LA LISTE REPRÉSENTATIVE DU</text>
<text x="60.5" y="537.0" font-size="12.6" text-anchor="start" font-weight="normal" fill="#222" >PATRIMOINE CULTUREL IMMATÉRIEL</text>
<circle cx="137.4" cy="576.7" r="26.8" fill="none" stroke="#4a4a4a" stroke-width="0.6"/>
<circle cx="144" cy="563.9" r="6.7" fill="#2a4893" stroke="#1d3678" stroke-width="0.6"/>
<circle cx="122.7" cy="575.8" r="6.7" fill="#8fb6f6" stroke="#4f83d8" stroke-width="0.6"/>
<circle cx="143.3" cy="589.8" r="6.7" fill="#fff" stroke="#666" stroke-width="0.6"/>
<line x1="146.2" y1="563.9" x2="167.0" y2="556.5" stroke="#555" stroke-width="0.6"/>
<line x1="123.6" y1="575.8" x2="167.0" y2="575.8" stroke="#555" stroke-width="0.6"/>
<line x1="143.6" y1="591.2" x2="167.0" y2="597.3" stroke="#555" stroke-width="0.6"/>
<text x="169.4" y="557.3" font-size="11.1" text-anchor="start" font-weight="normal" fill="#222" >Élément musical</text>
<text x="169.4" y="579.5" font-size="11.1" text-anchor="start" font-weight="normal" fill="#222" >Élément comprenant de la musique</text>
<text x="169.4" y="602.0" font-size="11.1" text-anchor="start" font-weight="normal" fill="#222" >Autres éléments</text>
<text x="60.5" y="623.6" font-size="11.2" text-anchor="start" font-weight="normal" fill="#222" >Ne sont nommés sur la carte que les</text>
<text x="60.5" y="634.8" font-size="11.2" text-anchor="start" font-weight="normal" fill="#222" >pays concernés par plus de 8 éléments.</text>
<text x="60.5" y="648.0" font-size="6.9" text-anchor="start" font-weight="normal" fill="#333" >Céline GRANDJEAN et Martin GRANDJEAN 2019</text>
<text x="60.5" y="655.3" font-size="6.9" text-anchor="start" font-weight="normal" fill="#333" >Données: UNESCO (unesco.org) 2018</text>
<text x="60.5" y="662.6" font-size="6.9" text-anchor="start" font-weight="bold" fill="#333" >www.martingrandjean.ch</text>
</g>
<g id="chart">
<rect x="566.8" y="600.1" width="12.4" height="46.9" fill="#fff" stroke="#cfcfcf" stroke-width="0.8"/>
<rect x="567.2" y="629.4" width="11.6" height="11.7" fill="#a9cde6"/>
<rect x="567.2" y="641.1" width="11.6" height="5.9" fill="#4b7cae"/>
<line x1="572.4" y1="589.9" x2="572.4" y2="605.9" stroke="#7a7a7a" stroke-width="0.6"/>
<rect x="583.1" y="600.1" width="12.4" height="46.9" fill="#fff" stroke="#cfcfcf" stroke-width="0.8"/>
<rect x="583.5" y="617.7" width="11.6" height="11.7" fill="#a9cde6"/>
<rect x="583.5" y="629.4" width="11.6" height="17.6" fill="#4b7cae"/>
<line x1="588.8" y1="567.0" x2="588.8" y2="605.9" stroke="#7a7a7a" stroke-width="0.6"/>
<rect x="599.5" y="600.1" width="12.4" height="46.9" fill="#fff" stroke="#cfcfcf" stroke-width="0.8"/>
<rect x="599.9" y="617.7" width="11.6" height="11.7" fill="#a9cde6"/>
<rect x="599.9" y="629.4" width="11.6" height="17.6" fill="#4b7cae"/>
<line x1="605.1" y1="589.9" x2="605.1" y2="605.9" stroke="#7a7a7a" stroke-width="0.6"/>
<rect x="615.8" y="594.3" width="12.4" height="52.7" fill="#fff" stroke="#cfcfcf" stroke-width="0.8"/>
<rect x="616.2" y="635.3" width="11.6" height="11.7" fill="#4b7cae"/>
<line x1="621.4" y1="565.8" x2="621.4" y2="600.1" stroke="#7a7a7a" stroke-width="0.6"/>
<rect x="632.2" y="594.3" width="12.4" height="52.7" fill="#fff" stroke="#cfcfcf" stroke-width="0.8"/>
<rect x="632.6" y="617.7" width="11.6" height="29.3" fill="#a9cde6"/>
<line x1="637.8" y1="586.9" x2="637.8" y2="600.1" stroke="#7a7a7a" stroke-width="0.6"/>
<rect x="648.5" y="594.3" width="12.4" height="52.7" fill="#fff" stroke="#cfcfcf" stroke-width="0.8"/>
<rect x="648.9" y="617.7" width="11.6" height="17.6" fill="#a9cde6"/>
<rect x="648.9" y="635.3" width="11.6" height="11.7" fill="#4b7cae"/>
<line x1="654.1" y1="569.3" x2="654.1" y2="600.1" stroke="#7a7a7a" stroke-width="0.6"/>
<rect x="664.9" y="588.4" width="12.4" height="58.6" fill="#fff" stroke="#cfcfcf" stroke-width="0.8"/>
<rect x="665.3" y="623.6" width="11.6" height="17.6" fill="#a9cde6"/>
<rect x="665.3" y="641.1" width="11.6" height="5.9" fill="#4b7cae"/>
<line x1="670.5" y1="539.3" x2="670.5" y2="594.2" stroke="#7a7a7a" stroke-width="0.6"/>
<rect x="681.2" y="582.5" width="12.4" height="64.5" fill="#fff" stroke="#cfcfcf" stroke-width="0.8"/>
<rect x="681.6" y="606.0" width="11.6" height="17.6" fill="#a9cde6"/>
<rect x="681.6" y="623.6" width="11.6" height="23.4" fill="#4b7cae"/>
<line x1="686.9" y1="552.3" x2="686.9" y2="588.3" stroke="#7a7a7a" stroke-width="0.6"/>
<rect x="697.6" y="582.5" width="12.4" height="64.5" fill="#fff" stroke="#cfcfcf" stroke-width="0.8"/>
<rect x="698.0" y="588.4" width="11.6" height="23.4" fill="#a9cde6"/>
<rect x="698.0" y="611.8" width="11.6" height="35.2" fill="#4b7cae"/>
<line x1="703.2" y1="573.9" x2="703.2" y2="588.3" stroke="#7a7a7a" stroke-width="0.6"/>
<rect x="713.9" y="576.7" width="12.4" height="70.3" fill="#fff" stroke="#cfcfcf" stroke-width="0.8"/>
<rect x="714.3" y="600.1" width="11.6" height="17.6" fill="#a9cde6"/>
<rect x="714.3" y="617.7" width="11.6" height="29.3" fill="#4b7cae"/>
<line x1="719.5" y1="537.6" x2="719.5" y2="582.5" stroke="#7a7a7a" stroke-width="0.6"/>
<rect x="730.3" y="576.7" width="12.4" height="70.3" fill="#fff" stroke="#cfcfcf" stroke-width="0.8"/>
<rect x="730.7" y="641.1" width="11.6" height="5.9" fill="#a9cde6"/>
<line x1="735.9" y1="561.9" x2="735.9" y2="582.5" stroke="#7a7a7a" stroke-width="0.6"/>
<rect x="746.6" y="565.0" width="12.4" height="82.0" fill="#fff" stroke="#cfcfcf" stroke-width="0.8"/>
<rect x="747.0" y="594.3" width="11.6" height="17.6" fill="#a9cde6"/>
<rect x="747.0" y="611.8" width="11.6" height="35.2" fill="#4b7cae"/>
<line x1="752.2" y1="528.3" x2="752.2" y2="570.8" stroke="#7a7a7a" stroke-width="0.6"/>
<rect x="763.0" y="559.1" width="12.4" height="87.9" fill="#fff" stroke="#cfcfcf" stroke-width="0.8"/>
<rect x="763.4" y="611.8" width="11.6" height="5.9" fill="#a9cde6"/>
<rect x="763.4" y="617.7" width="11.6" height="29.3" fill="#4b7cae"/>
<line x1="768.6" y1="551.7" x2="768.6" y2="564.9" stroke="#7a7a7a" stroke-width="0.6"/>
<rect x="779.3" y="559.1" width="12.4" height="87.9" fill="#fff" stroke="#cfcfcf" stroke-width="0.8"/>
<rect x="779.7" y="606.0" width="11.6" height="11.7" fill="#a9cde6"/>
<rect x="779.7" y="617.7" width="11.6" height="29.3" fill="#4b7cae"/>
<line x1="784.9" y1="526.7" x2="784.9" y2="564.9" stroke="#7a7a7a" stroke-width="0.6"/>
<rect x="795.7" y="547.4" width="12.4" height="99.6" fill="#fff" stroke="#cfcfcf" stroke-width="0.8"/>
<rect x="796.1" y="629.4" width="11.6" height="17.6" fill="#4b7cae"/>
<line x1="801.3" y1="507.0" x2="801.3" y2="553.2" stroke="#7a7a7a" stroke-width="0.6"/>
<rect x="812.0" y="547.4" width="12.4" height="99.6" fill="#fff" stroke="#cfcfcf" stroke-width="0.8"/>
<rect x="812.4" y="582.5" width="11.6" height="52.7" fill="#a9cde6"/>
<rect x="812.4" y="635.3" width="11.6" height="11.7" fill="#4b7cae"/>
<line x1="817.6" y1="526.7" x2="817.6" y2="553.2" stroke="#7a7a7a" stroke-width="0.6"/>
<rect x="828.4" y="523.9" width="12.4" height="123.1" fill="#fff" stroke="#cfcfcf" stroke-width="0.8"/>
<rect x="828.8" y="576.7" width="11.6" height="41.0" fill="#a9cde6"/>
<rect x="828.8" y="617.7" width="11.6" height="29.3" fill="#4b7cae"/>
<line x1="834.0" y1="503.8" x2="834.0" y2="529.7" stroke="#7a7a7a" stroke-width="0.6"/>
<rect x="844.8" y="512.2" width="12.4" height="134.8" fill="#fff" stroke="#cfcfcf" stroke-width="0.8"/>
<rect x="845.1" y="576.7" width="11.6" height="46.9" fill="#a9cde6"/>
<rect x="845.1" y="623.6" width="11.6" height="23.4" fill="#4b7cae"/>
<line x1="850.4" y1="456.7" x2="850.4" y2="518.0" stroke="#7a7a7a" stroke-width="0.6"/>
<rect x="861.1" y="459.5" width="12.4" height="187.5" fill="#fff" stroke="#cfcfcf" stroke-width="0.8"/>
<rect x="861.5" y="559.1" width="11.6" height="11.7" fill="#a9cde6"/>
<rect x="861.5" y="570.8" width="11.6" height="76.2" fill="#4b7cae"/>
<line x1="866.7" y1="439.5" x2="866.7" y2="465.3" stroke="#7a7a7a" stroke-width="0.6"/>
<text x="573.0" y="588.6" font-size="8.4" text-anchor="middle" font-weight="bold" fill="#222" stroke="#fff" stroke-width="1.8" paint-order="stroke" stroke-linejoin="round">8</text>
<text x="573.0" y="580.0" font-size="8.4" text-anchor="middle" font-weight="normal" fill="#2a2a2a" stroke="#fff" stroke-width="1.8" paint-order="stroke" stroke-linejoin="round">Colombie</text>
<text x="589.4" y="565.7" font-size="8.4" text-anchor="middle" font-weight="bold" fill="#222" stroke="#fff" stroke-width="1.8" paint-order="stroke" stroke-linejoin="round">8</text>
<text x="589.4" y="557.1" font-size="8.4" text-anchor="middle" font-weight="normal" fill="#2a2a2a" stroke="#fff" stroke-width="1.8" paint-order="stroke" stroke-linejoin="round">Mongolie</text>
<text x="605.7" y="588.6" font-size="8.4" text-anchor="middle" font-weight="bold" fill="#222" stroke="#fff" stroke-width="1.8" paint-order="stroke" stroke-linejoin="round">8</text>
<text x="605.7" y="580.0" font-size="8.4" text-anchor="middle" font-weight="normal" fill="#2a2a2a" stroke="#fff" stroke-width="1.8" paint-order="stroke" stroke-linejoin="round">Oman</text>
<text x="622.0" y="564.5" font-size="8.4" text-anchor="middle" font-weight="bold" fill="#222" stroke="#fff" stroke-width="1.8" paint-order="stroke" stroke-linejoin="round">9</text>
<text x="622.0" y="555.9" font-size="8.4" text-anchor="middle" font-weight="normal" fill="#2a2a2a" stroke="#fff" stroke-width="1.8" paint-order="stroke" stroke-linejoin="round">Italie</text>
<text x="638.4" y="585.6" font-size="8.4" text-anchor="middle" font-weight="bold" fill="#222" stroke="#fff" stroke-width="1.8" paint-order="stroke" stroke-linejoin="round">9</text>
<text x="638.4" y="577.0" font-size="8.4" text-anchor="middle" font-weight="normal" fill="#2a2a2a" stroke="#fff" stroke-width="1.8" paint-order="stroke" stroke-linejoin="round">Pérou</text>
<text x="654.8" y="568.0" font-size="8.4" text-anchor="middle" font-weight="bold" fill="#222" stroke="#fff" stroke-width="1.8" paint-order="stroke" stroke-linejoin="round">9</text>
<text x="654.8" y="559.4" font-size="8.4" text-anchor="middle" font-weight="normal" fill="#2a2a2a" stroke="#fff" stroke-width="1.8" paint-order="stroke" stroke-linejoin="round">Mexique</text>
<text x="671.1" y="538.0" font-size="8.4" text-anchor="middle" font-weight="bold" fill="#222" stroke="#fff" stroke-width="1.8" paint-order="stroke" stroke-linejoin="round">10</text>
<text x="671.1" y="529.4" font-size="8.4" text-anchor="middle" font-weight="normal" fill="#2a2a2a" stroke="#fff" stroke-width="1.8" paint-order="stroke" stroke-linejoin="round">Kazakhstan</text>
<text x="687.5" y="551.0" font-size="8.4" text-anchor="middle" font-weight="bold" fill="#222" stroke="#fff" stroke-width="1.8" paint-order="stroke" stroke-linejoin="round">11</text>
<text x="687.5" y="542.4" font-size="8.4" text-anchor="middle" font-weight="normal" fill="#2a2a2a" stroke="#fff" stroke-width="1.8" paint-order="stroke" stroke-linejoin="round">Iran</text>
<text x="703.8" y="572.6" font-size="8.4" text-anchor="middle" font-weight="bold" fill="#222" stroke="#fff" stroke-width="1.8" paint-order="stroke" stroke-linejoin="round">11</text>
<text x="703.8" y="564.0" font-size="8.4" text-anchor="middle" font-weight="normal" fill="#2a2a2a" stroke="#fff" stroke-width="1.8" paint-order="stroke" stroke-linejoin="round">Viêt Nam</text>
<text x="720.1" y="536.3" font-size="8.4" text-anchor="middle" font-weight="bold" fill="#222" stroke="#fff" stroke-width="1.8" paint-order="stroke" stroke-linejoin="round">12</text>
<text x="720.1" y="527.7" font-size="8.4" text-anchor="middle" font-weight="normal" fill="#2a2a2a" stroke="#fff" stroke-width="1.8" paint-order="stroke" stroke-linejoin="round">Azerbaïdjan</text>
<text x="736.5" y="560.6" font-size="8.4" text-anchor="middle" font-weight="bold" fill="#222" stroke="#fff" stroke-width="1.8" paint-order="stroke" stroke-linejoin="round">12</text>
<text x="736.5" y="552.0" font-size="8.4" text-anchor="middle" font-weight="normal" fill="#2a2a2a" stroke="#fff" stroke-width="1.8" paint-order="stroke" stroke-linejoin="round">Belgique</text>
<text x="752.9" y="527.0" font-size="8.4" text-anchor="middle" font-weight="bold" fill="#222" stroke="#fff" stroke-width="1.8" paint-order="stroke" stroke-linejoin="round">14</text>
<text x="752.9" y="518.4" font-size="8.4" text-anchor="middle" font-weight="normal" fill="#2a2a2a" stroke="#fff" stroke-width="1.8" paint-order="stroke" stroke-linejoin="round">Inde</text>
<text x="769.2" y="550.4" font-size="8.4" text-anchor="middle" font-weight="bold" fill="#222" stroke="#fff" stroke-width="1.8" paint-order="stroke" stroke-linejoin="round">15</text>
<text x="769.2" y="541.8" font-size="8.4" text-anchor="middle" font-weight="normal" fill="#2a2a2a" stroke="#fff" stroke-width="1.8" paint-order="stroke" stroke-linejoin="round">Croatie</text>
<text x="785.5" y="525.4" font-size="8.4" text-anchor="middle" font-weight="bold" fill="#222" stroke="#fff" stroke-width="1.8" paint-order="stroke" stroke-linejoin="round">15</text>
<text x="785.5" y="516.8" font-size="8.4" text-anchor="middle" font-weight="normal" fill="#2a2a2a" stroke="#fff" stroke-width="1.8" paint-order="stroke" stroke-linejoin="round">Espagne</text>
<text x="801.9" y="505.7" font-size="8.4" text-anchor="middle" font-weight="bold" fill="#222" stroke="#fff" stroke-width="1.8" paint-order="stroke" stroke-linejoin="round">17</text>
<text x="801.9" y="497.1" font-size="8.4" text-anchor="middle" font-weight="normal" fill="#2a2a2a" stroke="#fff" stroke-width="1.8" paint-order="stroke" stroke-linejoin="round">France</text>
<text x="818.2" y="525.4" font-size="8.4" text-anchor="middle" font-weight="bold" fill="#222" stroke="#fff" stroke-width="1.8" paint-order="stroke" stroke-linejoin="round">17</text>
<text x="818.2" y="516.8" font-size="8.4" text-anchor="middle" font-weight="normal" fill="#2a2a2a" stroke="#fff" stroke-width="1.8" paint-order="stroke" stroke-linejoin="round">Turquie</text>
<text x="834.6" y="502.5" font-size="8.4" text-anchor="middle" font-weight="bold" fill="#222" stroke="#fff" stroke-width="1.8" paint-order="stroke" stroke-linejoin="round">21</text>
<text x="834.6" y="493.9" font-size="8.4" text-anchor="middle" font-weight="normal" fill="#2a2a2a" stroke="#fff" stroke-width="1.8" paint-order="stroke" stroke-linejoin="round">du Sud</text>
<text x="834.6" y="485.8" font-size="8.4" text-anchor="middle" font-weight="normal" fill="#2a2a2a" stroke="#fff" stroke-width="1.8" paint-order="stroke" stroke-linejoin="round">Corée</text>
<text x="851.0" y="455.4" font-size="8.4" text-anchor="middle" font-weight="bold" fill="#222" stroke="#fff" stroke-width="1.8" paint-order="stroke" stroke-linejoin="round">23</text>
<text x="851.0" y="446.8" font-size="8.4" text-anchor="middle" font-weight="normal" fill="#2a2a2a" stroke="#fff" stroke-width="1.8" paint-order="stroke" stroke-linejoin="round">Japon</text>
<text x="867.3" y="438.2" font-size="8.4" text-anchor="middle" font-weight="bold" fill="#222" stroke="#fff" stroke-width="1.8" paint-order="stroke" stroke-linejoin="round">32</text>
<text x="867.3" y="429.6" font-size="8.4" text-anchor="middle" font-weight="normal" fill="#2a2a2a" stroke="#fff" stroke-width="1.8" paint-order="stroke" stroke-linejoin="round">Chine</text>
<text x="875.0" y="662.5" font-size="10" text-anchor="end" font-weight="normal" fill="#333" >PAYS LES PLUS REPRÉSENTÉS</text>
<line x1="870.0" y1="538.4" x2="884.0" y2="538.4" stroke="#a8a8a8" stroke-width="0.6"/>
<text x="887.0" y="541.0" font-size="7.2" text-anchor="start" font-weight="normal" fill="#a8a8a8" >Autres</text>
<line x1="870.0" y1="565.0" x2="884.0" y2="565.0" stroke="#a8a8a8" stroke-width="0.6"/>
<text x="887.0" y="555.2" font-size="7.2" text-anchor="start" font-weight="normal" fill="#a8a8a8" >Éléments</text>
<text x="887.0" y="562.8" font-size="7.2" text-anchor="start" font-weight="normal" fill="#a8a8a8" >comprenant</text>
<text x="887.0" y="570.3" font-size="7.2" text-anchor="start" font-weight="normal" fill="#a8a8a8" >de la</text>
<text x="887.0" y="577.9" font-size="7.2" text-anchor="start" font-weight="normal" fill="#a8a8a8" >musique</text>
<line x1="869.5" y1="599.3" x2="883.5" y2="599.3" stroke="#a8a8a8" stroke-width="0.6"/>
<text x="887.0" y="599.2" font-size="7.2" text-anchor="start" font-weight="normal" fill="#a8a8a8" >Éléments</text>
<text x="887.0" y="606.4" font-size="7.2" text-anchor="start" font-weight="normal" fill="#a8a8a8" >musicaux</text>
</g>
</svg></body></html>
